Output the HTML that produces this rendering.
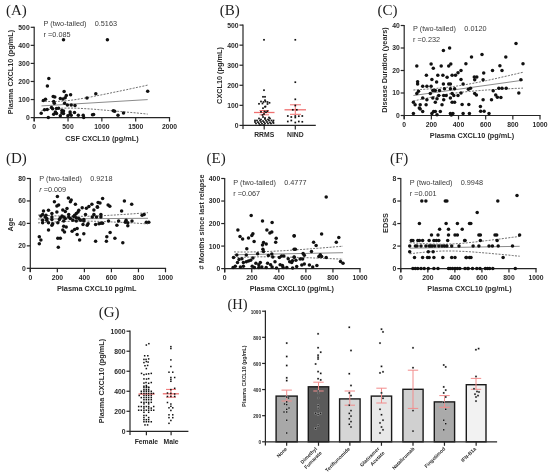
<!DOCTYPE html>
<html><head><meta charset="utf-8"><style>html,body{margin:0;padding:0;background:#fff;}svg{display:block;filter:blur(0.3px);}</style></head>
<body><svg width="550" height="476" viewBox="0 0 550 476">
<rect width="550" height="476" fill="#fff"/>
<text x="6.0" y="14.8" font-family='"Liberation Serif", serif' font-size="15" font-weight="normal" text-anchor="start" fill="#1e1e1e">(A)</text>
<line x1="34.20" y1="117.60" x2="170.10" y2="117.60" stroke="#262626" stroke-width="1.2"/>
<line x1="34.20" y1="117.60" x2="34.20" y2="121.60" stroke="#262626" stroke-width="1.2"/>
<text x="34.2" y="129.4" font-family='"Liberation Sans", sans-serif' font-size="6.8" font-weight="bold" text-anchor="middle" fill="#2a2a2a">0</text>
<line x1="68.03" y1="117.60" x2="68.03" y2="121.60" stroke="#262626" stroke-width="1.2"/>
<text x="68.0" y="129.4" font-family='"Liberation Sans", sans-serif' font-size="6.8" font-weight="bold" text-anchor="middle" fill="#2a2a2a">500</text>
<line x1="101.85" y1="117.60" x2="101.85" y2="121.60" stroke="#262626" stroke-width="1.2"/>
<text x="101.9" y="129.4" font-family='"Liberation Sans", sans-serif' font-size="6.8" font-weight="bold" text-anchor="middle" fill="#2a2a2a">1000</text>
<line x1="135.68" y1="117.60" x2="135.68" y2="121.60" stroke="#262626" stroke-width="1.2"/>
<text x="135.7" y="129.4" font-family='"Liberation Sans", sans-serif' font-size="6.8" font-weight="bold" text-anchor="middle" fill="#2a2a2a">1500</text>
<line x1="169.50" y1="117.60" x2="169.50" y2="121.60" stroke="#262626" stroke-width="1.2"/>
<text x="169.5" y="129.4" font-family='"Liberation Sans", sans-serif' font-size="6.8" font-weight="bold" text-anchor="middle" fill="#2a2a2a">2000</text>
<line x1="34.20" y1="121.20" x2="34.20" y2="26.70" stroke="#262626" stroke-width="1.2"/>
<line x1="30.70" y1="117.60" x2="34.20" y2="117.60" stroke="#262626" stroke-width="1.2"/>
<text x="29.7" y="120.0" font-family='"Liberation Sans", sans-serif' font-size="6.8" font-weight="bold" text-anchor="end" fill="#2a2a2a">0</text>
<line x1="30.70" y1="99.54" x2="34.20" y2="99.54" stroke="#262626" stroke-width="1.2"/>
<text x="29.7" y="101.9" font-family='"Liberation Sans", sans-serif' font-size="6.8" font-weight="bold" text-anchor="end" fill="#2a2a2a">100</text>
<line x1="30.70" y1="81.48" x2="34.20" y2="81.48" stroke="#262626" stroke-width="1.2"/>
<text x="29.7" y="83.9" font-family='"Liberation Sans", sans-serif' font-size="6.8" font-weight="bold" text-anchor="end" fill="#2a2a2a">200</text>
<line x1="30.70" y1="63.42" x2="34.20" y2="63.42" stroke="#262626" stroke-width="1.2"/>
<text x="29.7" y="65.8" font-family='"Liberation Sans", sans-serif' font-size="6.8" font-weight="bold" text-anchor="end" fill="#2a2a2a">300</text>
<line x1="30.70" y1="45.36" x2="34.20" y2="45.36" stroke="#262626" stroke-width="1.2"/>
<text x="29.7" y="47.8" font-family='"Liberation Sans", sans-serif' font-size="6.8" font-weight="bold" text-anchor="end" fill="#2a2a2a">400</text>
<line x1="30.70" y1="27.30" x2="34.20" y2="27.30" stroke="#262626" stroke-width="1.2"/>
<text x="29.7" y="29.7" font-family='"Liberation Sans", sans-serif' font-size="6.8" font-weight="bold" text-anchor="end" fill="#2a2a2a">500</text>
<text x="102.0" y="140.6" font-family='"Liberation Sans", sans-serif' font-size="7.3" font-weight="bold" text-anchor="middle" fill="#2a2a2a">CSF CXCL10 (pg/mL)</text>
<text x="13.3" y="72.0" font-family='"Liberation Sans", sans-serif' font-size="7.3" font-weight="bold" text-anchor="middle" fill="#2a2a2a" transform="rotate(-90 13.3 72.0)">Plasma CXCL10 (pg/mL)</text>
<text x="43.6" y="25.6" font-family='"Liberation Sans", sans-serif' font-size="7.3" font-weight="normal" text-anchor="start" fill="#3a3a3a">P (two-tailed)</text>
<text x="94.7" y="25.6" font-family='"Liberation Sans", sans-serif' font-size="7.3" font-weight="normal" text-anchor="start" fill="#3a3a3a">0.5163</text>
<text x="43.6" y="36.7" font-family='"Liberation Sans", sans-serif' font-size="7.3" font-weight="normal" text-anchor="start" fill="#3a3a3a">r =0.085</text>
<line x1="41.50" y1="105.90" x2="147.70" y2="99.60" stroke="#8c8c8c" stroke-width="1.0"/>
<path d="M41.5,101.3 L45.0,101.4 L48.6,101.5 L52.1,101.5 L55.7,101.5 L59.2,101.3 L62.7,101.1 L66.3,100.8 L69.8,100.4 L73.4,99.9 L76.9,99.4 L80.4,98.8 L84.0,98.2 L87.5,97.5 L91.1,96.9 L94.6,96.2 L98.1,95.5 L101.7,94.8 L105.2,94.1 L108.8,93.4 L112.3,92.6 L115.8,91.9 L119.4,91.2 L122.9,90.4 L126.5,89.7 L130.0,88.9 L133.5,88.2 L137.1,87.4 L140.6,86.7 L144.2,85.9 L147.7,85.1" fill="none" stroke="#4a4a4a" stroke-width="0.8" stroke-dasharray="2,1.3"/>
<path d="M41.5,110.5 L45.0,109.9 L48.6,109.4 L52.1,109.0 L55.7,108.6 L59.2,108.4 L62.7,108.2 L66.3,108.1 L69.8,108.1 L73.4,108.1 L76.9,108.2 L80.4,108.4 L84.0,108.6 L87.5,108.8 L91.1,109.0 L94.6,109.3 L98.1,109.6 L101.7,109.9 L105.2,110.2 L108.8,110.5 L112.3,110.8 L115.8,111.1 L119.4,111.4 L122.9,111.7 L126.5,112.1 L130.0,112.4 L133.5,112.7 L137.1,113.0 L140.6,113.4 L144.2,113.7 L147.7,114.1" fill="none" stroke="#4a4a4a" stroke-width="0.8" stroke-dasharray="2,1.3"/>
<circle cx="48.8" cy="78.4" r="1.75" fill="#111"/>
<circle cx="47.4" cy="86.0" r="1.75" fill="#111"/>
<circle cx="64.1" cy="91.5" r="1.75" fill="#111"/>
<circle cx="70.6" cy="94.8" r="1.75" fill="#111"/>
<circle cx="53.2" cy="96.5" r="1.75" fill="#111"/>
<circle cx="54.8" cy="97.0" r="1.75" fill="#111"/>
<circle cx="66.3" cy="95.6" r="1.75" fill="#111"/>
<circle cx="65.2" cy="97.8" r="1.75" fill="#111"/>
<circle cx="60.3" cy="98.4" r="1.75" fill="#111"/>
<circle cx="63.0" cy="98.9" r="1.75" fill="#111"/>
<circle cx="43.4" cy="100.5" r="1.75" fill="#111"/>
<circle cx="45.5" cy="99.2" r="1.75" fill="#111"/>
<circle cx="87.0" cy="98.0" r="1.75" fill="#111"/>
<circle cx="53.7" cy="101.6" r="1.75" fill="#111"/>
<circle cx="54.3" cy="103.3" r="1.75" fill="#111"/>
<circle cx="64.6" cy="103.3" r="1.75" fill="#111"/>
<circle cx="67.4" cy="104.9" r="1.75" fill="#111"/>
<circle cx="71.2" cy="105.1" r="1.75" fill="#111"/>
<circle cx="75.0" cy="105.5" r="1.75" fill="#111"/>
<circle cx="51.5" cy="107.6" r="1.75" fill="#111"/>
<circle cx="52.6" cy="108.7" r="1.75" fill="#111"/>
<circle cx="44.5" cy="109.8" r="1.75" fill="#111"/>
<circle cx="47.2" cy="109.5" r="1.75" fill="#111"/>
<circle cx="56.5" cy="108.4" r="1.75" fill="#111"/>
<circle cx="58.6" cy="108.2" r="1.75" fill="#111"/>
<circle cx="61.9" cy="110.4" r="1.75" fill="#111"/>
<circle cx="63.5" cy="110.9" r="1.75" fill="#111"/>
<circle cx="41.2" cy="113.3" r="1.75" fill="#111"/>
<circle cx="55.4" cy="112.0" r="1.75" fill="#111"/>
<circle cx="53.7" cy="114.2" r="1.75" fill="#111"/>
<circle cx="56.5" cy="113.6" r="1.75" fill="#111"/>
<circle cx="61.9" cy="113.1" r="1.75" fill="#111"/>
<circle cx="63.5" cy="113.6" r="1.75" fill="#111"/>
<circle cx="70.1" cy="112.0" r="1.75" fill="#111"/>
<circle cx="74.5" cy="112.5" r="1.75" fill="#111"/>
<circle cx="70.1" cy="114.2" r="1.75" fill="#111"/>
<circle cx="67.9" cy="115.8" r="1.75" fill="#111"/>
<circle cx="78.3" cy="115.3" r="1.75" fill="#111"/>
<circle cx="83.2" cy="115.3" r="1.75" fill="#111"/>
<circle cx="48.3" cy="117.5" r="1.75" fill="#111"/>
<circle cx="60.3" cy="115.8" r="1.75" fill="#111"/>
<circle cx="71.2" cy="115.3" r="1.75" fill="#111"/>
<circle cx="83.7" cy="117.5" r="1.75" fill="#111"/>
<circle cx="92.5" cy="114.7" r="1.75" fill="#111"/>
<circle cx="63.5" cy="39.7" r="1.75" fill="#111"/>
<circle cx="107.4" cy="39.7" r="1.75" fill="#111"/>
<circle cx="95.8" cy="93.8" r="1.75" fill="#111"/>
<circle cx="147.7" cy="91.3" r="1.75" fill="#111"/>
<circle cx="113.3" cy="110.8" r="1.75" fill="#111"/>
<circle cx="114.7" cy="111.3" r="1.75" fill="#111"/>
<circle cx="123.5" cy="113.0" r="1.75" fill="#111"/>
<circle cx="118.0" cy="115.3" r="1.75" fill="#111"/>
<circle cx="93.6" cy="114.6" r="1.75" fill="#111"/>
<text x="219.8" y="14.8" font-family='"Liberation Serif", serif' font-size="15" font-weight="normal" text-anchor="start" fill="#1e1e1e">(B)</text>
<line x1="243.00" y1="125.40" x2="315.80" y2="125.40" stroke="#262626" stroke-width="1.2"/>
<line x1="264.20" y1="125.40" x2="264.20" y2="129.40" stroke="#262626" stroke-width="1.2"/>
<text x="264.2" y="137.4" font-family='"Liberation Sans", sans-serif' font-size="6.8" font-weight="bold" text-anchor="middle" fill="#2a2a2a">RRMS</text>
<line x1="295.30" y1="125.40" x2="295.30" y2="129.40" stroke="#262626" stroke-width="1.2"/>
<text x="295.3" y="137.4" font-family='"Liberation Sans", sans-serif' font-size="6.8" font-weight="bold" text-anchor="middle" fill="#2a2a2a">NIND</text>
<line x1="243.00" y1="129.00" x2="243.00" y2="24.50" stroke="#262626" stroke-width="1.2"/>
<line x1="239.50" y1="125.40" x2="243.00" y2="125.40" stroke="#262626" stroke-width="1.2"/>
<text x="238.5" y="127.8" font-family='"Liberation Sans", sans-serif' font-size="6.8" font-weight="bold" text-anchor="end" fill="#2a2a2a">0</text>
<line x1="239.50" y1="105.34" x2="243.00" y2="105.34" stroke="#262626" stroke-width="1.2"/>
<text x="238.5" y="107.7" font-family='"Liberation Sans", sans-serif' font-size="6.8" font-weight="bold" text-anchor="end" fill="#2a2a2a">100</text>
<line x1="239.50" y1="85.28" x2="243.00" y2="85.28" stroke="#262626" stroke-width="1.2"/>
<text x="238.5" y="87.7" font-family='"Liberation Sans", sans-serif' font-size="6.8" font-weight="bold" text-anchor="end" fill="#2a2a2a">200</text>
<line x1="239.50" y1="65.22" x2="243.00" y2="65.22" stroke="#262626" stroke-width="1.2"/>
<text x="238.5" y="67.6" font-family='"Liberation Sans", sans-serif' font-size="6.8" font-weight="bold" text-anchor="end" fill="#2a2a2a">300</text>
<line x1="239.50" y1="45.16" x2="243.00" y2="45.16" stroke="#262626" stroke-width="1.2"/>
<text x="238.5" y="47.6" font-family='"Liberation Sans", sans-serif' font-size="6.8" font-weight="bold" text-anchor="end" fill="#2a2a2a">400</text>
<line x1="239.50" y1="25.10" x2="243.00" y2="25.10" stroke="#262626" stroke-width="1.2"/>
<text x="238.5" y="27.5" font-family='"Liberation Sans", sans-serif' font-size="6.8" font-weight="bold" text-anchor="end" fill="#2a2a2a">500</text>
<text x="222.3" y="75.5" font-family='"Liberation Sans", sans-serif' font-size="7.3" font-weight="bold" text-anchor="middle" fill="#2a2a2a" transform="rotate(-90 222.3 75.5)">CXCL10 (pg/mL)</text>
<line x1="254.00" y1="112.50" x2="274.50" y2="112.50" stroke="#f07070" stroke-width="1.3"/>
<line x1="259.50" y1="110.50" x2="269.00" y2="110.50" stroke="#f07070" stroke-width="1"/>
<line x1="259.50" y1="114.80" x2="269.00" y2="114.80" stroke="#f07070" stroke-width="1"/>
<line x1="264.20" y1="110.50" x2="264.20" y2="114.80" stroke="#f07070" stroke-width="1"/>
<line x1="284.50" y1="109.80" x2="306.00" y2="109.80" stroke="#f07070" stroke-width="1.3"/>
<line x1="290.00" y1="104.80" x2="301.00" y2="104.80" stroke="#f07070" stroke-width="1"/>
<line x1="290.00" y1="114.30" x2="301.00" y2="114.30" stroke="#f07070" stroke-width="1"/>
<line x1="295.30" y1="104.80" x2="295.30" y2="114.30" stroke="#f07070" stroke-width="1"/>
<rect x="263.15" y="89.35" width="1.7" height="1.7" fill="#111"/>
<rect x="262.15" y="95.95" width="1.7" height="1.7" fill="#111"/>
<rect x="264.15" y="95.95" width="1.7" height="1.7" fill="#111"/>
<rect x="264.15" y="99.35" width="1.7" height="1.7" fill="#111"/>
<rect x="260.15" y="100.65" width="1.7" height="1.7" fill="#111"/>
<rect x="262.65" y="101.15" width="1.7" height="1.7" fill="#111"/>
<rect x="264.65" y="100.65" width="1.7" height="1.7" fill="#111"/>
<rect x="266.65" y="101.15" width="1.7" height="1.7" fill="#111"/>
<rect x="268.65" y="101.95" width="1.7" height="1.7" fill="#111"/>
<rect x="258.15" y="102.95" width="1.7" height="1.7" fill="#111"/>
<rect x="261.65" y="102.65" width="1.7" height="1.7" fill="#111"/>
<rect x="266.65" y="103.15" width="1.7" height="1.7" fill="#111"/>
<rect x="264.65" y="105.65" width="1.7" height="1.7" fill="#111"/>
<rect x="262.15" y="107.35" width="1.7" height="1.7" fill="#111"/>
<rect x="264.15" y="105.95" width="1.7" height="1.7" fill="#111"/>
<rect x="260.15" y="110.95" width="1.7" height="1.7" fill="#111"/>
<rect x="263.65" y="110.65" width="1.7" height="1.7" fill="#111"/>
<rect x="266.65" y="110.35" width="1.7" height="1.7" fill="#111"/>
<rect x="265.15" y="111.35" width="1.7" height="1.7" fill="#111"/>
<rect x="261.65" y="114.15" width="1.7" height="1.7" fill="#111"/>
<rect x="263.15" y="113.15" width="1.7" height="1.7" fill="#111"/>
<rect x="262.15" y="116.15" width="1.7" height="1.7" fill="#111"/>
<rect x="264.15" y="117.15" width="1.7" height="1.7" fill="#111"/>
<rect x="268.15" y="116.65" width="1.7" height="1.7" fill="#111"/>
<rect x="258.15" y="117.65" width="1.7" height="1.7" fill="#111"/>
<rect x="260.15" y="118.65" width="1.7" height="1.7" fill="#111"/>
<rect x="264.15" y="118.15" width="1.7" height="1.7" fill="#111"/>
<rect x="267.15" y="118.65" width="1.7" height="1.7" fill="#111"/>
<rect x="269.15" y="117.65" width="1.7" height="1.7" fill="#111"/>
<rect x="254.15" y="119.65" width="1.7" height="1.7" fill="#111"/>
<rect x="256.15" y="119.65" width="1.7" height="1.7" fill="#111"/>
<rect x="259.15" y="119.65" width="1.7" height="1.7" fill="#111"/>
<rect x="262.15" y="120.15" width="1.7" height="1.7" fill="#111"/>
<rect x="265.15" y="119.65" width="1.7" height="1.7" fill="#111"/>
<rect x="268.15" y="119.65" width="1.7" height="1.7" fill="#111"/>
<rect x="270.65" y="119.65" width="1.7" height="1.7" fill="#111"/>
<rect x="272.65" y="119.65" width="1.7" height="1.7" fill="#111"/>
<rect x="254.15" y="121.15" width="1.7" height="1.7" fill="#111"/>
<rect x="257.15" y="121.35" width="1.7" height="1.7" fill="#111"/>
<rect x="260.15" y="121.15" width="1.7" height="1.7" fill="#111"/>
<rect x="263.15" y="121.35" width="1.7" height="1.7" fill="#111"/>
<rect x="266.15" y="121.15" width="1.7" height="1.7" fill="#111"/>
<rect x="269.15" y="121.65" width="1.7" height="1.7" fill="#111"/>
<rect x="272.15" y="121.15" width="1.7" height="1.7" fill="#111"/>
<rect x="255.15" y="122.65" width="1.7" height="1.7" fill="#111"/>
<rect x="258.15" y="122.65" width="1.7" height="1.7" fill="#111"/>
<rect x="261.15" y="122.95" width="1.7" height="1.7" fill="#111"/>
<rect x="264.15" y="122.65" width="1.7" height="1.7" fill="#111"/>
<rect x="267.15" y="122.65" width="1.7" height="1.7" fill="#111"/>
<rect x="270.15" y="122.65" width="1.7" height="1.7" fill="#111"/>
<rect x="272.65" y="122.15" width="1.7" height="1.7" fill="#111"/>
<rect x="259.15" y="124.15" width="1.7" height="1.7" fill="#111"/>
<rect x="263.15" y="124.15" width="1.7" height="1.7" fill="#111"/>
<rect x="263.15" y="38.95" width="1.7" height="1.7" fill="#111"/>
<rect x="294.45" y="98.45" width="1.7" height="1.7" fill="#111"/>
<rect x="294.45" y="104.65" width="1.7" height="1.7" fill="#111"/>
<rect x="291.95" y="108.95" width="1.7" height="1.7" fill="#111"/>
<rect x="295.95" y="108.95" width="1.7" height="1.7" fill="#111"/>
<rect x="286.95" y="115.15" width="1.7" height="1.7" fill="#111"/>
<rect x="290.45" y="116.15" width="1.7" height="1.7" fill="#111"/>
<rect x="294.45" y="115.15" width="1.7" height="1.7" fill="#111"/>
<rect x="297.95" y="115.35" width="1.7" height="1.7" fill="#111"/>
<rect x="301.45" y="115.15" width="1.7" height="1.7" fill="#111"/>
<rect x="294.45" y="116.65" width="1.7" height="1.7" fill="#111"/>
<rect x="286.95" y="120.65" width="1.7" height="1.7" fill="#111"/>
<rect x="290.45" y="119.65" width="1.7" height="1.7" fill="#111"/>
<rect x="294.45" y="121.65" width="1.7" height="1.7" fill="#111"/>
<rect x="297.95" y="120.65" width="1.7" height="1.7" fill="#111"/>
<rect x="301.45" y="120.95" width="1.7" height="1.7" fill="#111"/>
<rect x="294.45" y="38.95" width="1.7" height="1.7" fill="#111"/>
<rect x="294.45" y="81.35" width="1.7" height="1.7" fill="#111"/>
<text x="377.6" y="14.8" font-family='"Liberation Serif", serif' font-size="15" font-weight="normal" text-anchor="start" fill="#1e1e1e">(C)</text>
<line x1="404.20" y1="115.50" x2="540.60" y2="115.50" stroke="#262626" stroke-width="1.2"/>
<line x1="404.20" y1="115.50" x2="404.20" y2="119.50" stroke="#262626" stroke-width="1.2"/>
<text x="404.2" y="127.3" font-family='"Liberation Sans", sans-serif' font-size="6.8" font-weight="bold" text-anchor="middle" fill="#2a2a2a">0</text>
<line x1="431.36" y1="115.50" x2="431.36" y2="119.50" stroke="#262626" stroke-width="1.2"/>
<text x="431.4" y="127.3" font-family='"Liberation Sans", sans-serif' font-size="6.8" font-weight="bold" text-anchor="middle" fill="#2a2a2a">200</text>
<line x1="458.52" y1="115.50" x2="458.52" y2="119.50" stroke="#262626" stroke-width="1.2"/>
<text x="458.5" y="127.3" font-family='"Liberation Sans", sans-serif' font-size="6.8" font-weight="bold" text-anchor="middle" fill="#2a2a2a">400</text>
<line x1="485.68" y1="115.50" x2="485.68" y2="119.50" stroke="#262626" stroke-width="1.2"/>
<text x="485.7" y="127.3" font-family='"Liberation Sans", sans-serif' font-size="6.8" font-weight="bold" text-anchor="middle" fill="#2a2a2a">600</text>
<line x1="512.84" y1="115.50" x2="512.84" y2="119.50" stroke="#262626" stroke-width="1.2"/>
<text x="512.8" y="127.3" font-family='"Liberation Sans", sans-serif' font-size="6.8" font-weight="bold" text-anchor="middle" fill="#2a2a2a">800</text>
<line x1="540.00" y1="115.50" x2="540.00" y2="119.50" stroke="#262626" stroke-width="1.2"/>
<text x="540.0" y="127.3" font-family='"Liberation Sans", sans-serif' font-size="6.8" font-weight="bold" text-anchor="middle" fill="#2a2a2a">1000</text>
<line x1="404.20" y1="119.10" x2="404.20" y2="24.90" stroke="#262626" stroke-width="1.2"/>
<line x1="400.70" y1="115.50" x2="404.20" y2="115.50" stroke="#262626" stroke-width="1.2"/>
<text x="399.7" y="117.9" font-family='"Liberation Sans", sans-serif' font-size="6.8" font-weight="bold" text-anchor="end" fill="#2a2a2a">0</text>
<line x1="400.70" y1="93.00" x2="404.20" y2="93.00" stroke="#262626" stroke-width="1.2"/>
<text x="399.7" y="95.4" font-family='"Liberation Sans", sans-serif' font-size="6.8" font-weight="bold" text-anchor="end" fill="#2a2a2a">10</text>
<line x1="400.70" y1="70.50" x2="404.20" y2="70.50" stroke="#262626" stroke-width="1.2"/>
<text x="399.7" y="72.9" font-family='"Liberation Sans", sans-serif' font-size="6.8" font-weight="bold" text-anchor="end" fill="#2a2a2a">20</text>
<line x1="400.70" y1="48.00" x2="404.20" y2="48.00" stroke="#262626" stroke-width="1.2"/>
<text x="399.7" y="50.4" font-family='"Liberation Sans", sans-serif' font-size="6.8" font-weight="bold" text-anchor="end" fill="#2a2a2a">30</text>
<line x1="400.70" y1="25.50" x2="404.20" y2="25.50" stroke="#262626" stroke-width="1.2"/>
<text x="399.7" y="27.9" font-family='"Liberation Sans", sans-serif' font-size="6.8" font-weight="bold" text-anchor="end" fill="#2a2a2a">40</text>
<text x="472.0" y="138.0" font-family='"Liberation Sans", sans-serif' font-size="7.3" font-weight="bold" text-anchor="middle" fill="#2a2a2a">Plasma CXCL10 (pg/mL)</text>
<text x="386.5" y="70.0" font-family='"Liberation Sans", sans-serif' font-size="7.3" font-weight="bold" text-anchor="middle" fill="#2a2a2a" transform="rotate(-90 386.5 70.0)">Disease Duration (years)</text>
<text x="413.1" y="30.9" font-family='"Liberation Sans", sans-serif' font-size="7.3" font-weight="normal" text-anchor="start" fill="#3a3a3a">P (two-tailed)</text>
<text x="464.3" y="30.9" font-family='"Liberation Sans", sans-serif' font-size="7.3" font-weight="normal" text-anchor="start" fill="#3a3a3a">0.0120</text>
<text x="413.1" y="41.9" font-family='"Liberation Sans", sans-serif' font-size="7.3" font-weight="normal" text-anchor="start" fill="#3a3a3a">r =0.232</text>
<line x1="413.40" y1="95.50" x2="523.00" y2="80.20" stroke="#8c8c8c" stroke-width="1.0"/>
<path d="M413.4,90.0 L417.1,89.8 L420.7,89.5 L424.4,89.3 L428.0,89.0 L431.7,88.8 L435.3,88.5 L439.0,88.1 L442.6,87.8 L446.3,87.4 L449.9,87.0 L453.6,86.5 L457.2,86.0 L460.9,85.4 L464.5,84.8 L468.2,84.2 L471.9,83.5 L475.5,82.8 L479.2,82.1 L482.8,81.3 L486.5,80.6 L490.1,79.8 L493.8,79.0 L497.4,78.2 L501.1,77.3 L504.7,76.5 L508.4,75.7 L512.0,74.8 L515.7,74.0 L519.3,73.1 L523.0,72.3" fill="none" stroke="#4a4a4a" stroke-width="0.8" stroke-dasharray="2,1.3"/>
<path d="M413.4,101.0 L417.1,100.2 L420.7,99.4 L424.4,98.7 L428.0,97.9 L431.7,97.1 L435.3,96.4 L439.0,95.7 L442.6,95.1 L446.3,94.4 L449.9,93.8 L453.6,93.3 L457.2,92.8 L460.9,92.3 L464.5,91.9 L468.2,91.5 L471.9,91.2 L475.5,90.9 L479.2,90.6 L482.8,90.3 L486.5,90.0 L490.1,89.8 L493.8,89.6 L497.4,89.4 L501.1,89.2 L504.7,89.0 L508.4,88.8 L512.0,88.6 L515.7,88.4 L519.3,88.3 L523.0,88.1" fill="none" stroke="#4a4a4a" stroke-width="0.8" stroke-dasharray="2,1.3"/>
<circle cx="449.6" cy="47.9" r="1.75" fill="#111"/>
<circle cx="443.4" cy="50.4" r="1.75" fill="#111"/>
<circle cx="416.8" cy="66.1" r="1.75" fill="#111"/>
<circle cx="431.1" cy="63.9" r="1.75" fill="#111"/>
<circle cx="433.3" cy="68.2" r="1.75" fill="#111"/>
<circle cx="441.2" cy="66.1" r="1.75" fill="#111"/>
<circle cx="448.7" cy="66.1" r="1.75" fill="#111"/>
<circle cx="450.8" cy="63.9" r="1.75" fill="#111"/>
<circle cx="426.4" cy="75.3" r="1.75" fill="#111"/>
<circle cx="437.8" cy="75.3" r="1.75" fill="#111"/>
<circle cx="442.9" cy="75.3" r="1.75" fill="#111"/>
<circle cx="447.1" cy="77.3" r="1.75" fill="#111"/>
<circle cx="452.1" cy="75.3" r="1.75" fill="#111"/>
<circle cx="455.5" cy="75.3" r="1.75" fill="#111"/>
<circle cx="458.0" cy="72.8" r="1.75" fill="#111"/>
<circle cx="417.6" cy="81.7" r="1.75" fill="#111"/>
<circle cx="417.6" cy="84.0" r="1.75" fill="#111"/>
<circle cx="431.9" cy="79.5" r="1.75" fill="#111"/>
<circle cx="436.6" cy="82.0" r="1.75" fill="#111"/>
<circle cx="443.4" cy="84.0" r="1.75" fill="#111"/>
<circle cx="448.7" cy="84.0" r="1.75" fill="#111"/>
<circle cx="450.4" cy="84.0" r="1.75" fill="#111"/>
<circle cx="422.7" cy="86.2" r="1.75" fill="#111"/>
<circle cx="426.9" cy="86.2" r="1.75" fill="#111"/>
<circle cx="431.1" cy="86.2" r="1.75" fill="#111"/>
<circle cx="444.5" cy="88.7" r="1.75" fill="#111"/>
<circle cx="450.4" cy="88.7" r="1.75" fill="#111"/>
<circle cx="454.6" cy="88.7" r="1.75" fill="#111"/>
<circle cx="432.8" cy="90.4" r="1.75" fill="#111"/>
<circle cx="435.3" cy="90.4" r="1.75" fill="#111"/>
<circle cx="439.5" cy="90.4" r="1.75" fill="#111"/>
<circle cx="416.8" cy="93.4" r="1.75" fill="#111"/>
<circle cx="418.5" cy="91.3" r="1.75" fill="#111"/>
<circle cx="430.3" cy="93.4" r="1.75" fill="#111"/>
<circle cx="438.7" cy="95.5" r="1.75" fill="#111"/>
<circle cx="443.7" cy="95.5" r="1.75" fill="#111"/>
<circle cx="446.2" cy="95.5" r="1.75" fill="#111"/>
<circle cx="452.1" cy="93.4" r="1.75" fill="#111"/>
<circle cx="453.8" cy="95.5" r="1.75" fill="#111"/>
<circle cx="458.0" cy="95.5" r="1.75" fill="#111"/>
<circle cx="422.7" cy="98.0" r="1.75" fill="#111"/>
<circle cx="426.9" cy="99.7" r="1.75" fill="#111"/>
<circle cx="432.8" cy="98.0" r="1.75" fill="#111"/>
<circle cx="437.0" cy="98.8" r="1.75" fill="#111"/>
<circle cx="443.7" cy="99.7" r="1.75" fill="#111"/>
<circle cx="450.4" cy="98.0" r="1.75" fill="#111"/>
<circle cx="413.4" cy="102.2" r="1.75" fill="#111"/>
<circle cx="415.1" cy="104.7" r="1.75" fill="#111"/>
<circle cx="420.2" cy="104.7" r="1.75" fill="#111"/>
<circle cx="426.1" cy="104.7" r="1.75" fill="#111"/>
<circle cx="435.3" cy="102.2" r="1.75" fill="#111"/>
<circle cx="442.0" cy="104.7" r="1.75" fill="#111"/>
<circle cx="452.1" cy="102.2" r="1.75" fill="#111"/>
<circle cx="454.6" cy="102.2" r="1.75" fill="#111"/>
<circle cx="420.2" cy="108.9" r="1.75" fill="#111"/>
<circle cx="422.7" cy="111.4" r="1.75" fill="#111"/>
<circle cx="419.3" cy="108.1" r="1.75" fill="#111"/>
<circle cx="433.6" cy="111.4" r="1.75" fill="#111"/>
<circle cx="435.3" cy="111.4" r="1.75" fill="#111"/>
<circle cx="440.3" cy="111.4" r="1.75" fill="#111"/>
<circle cx="413.4" cy="113.4" r="1.75" fill="#111"/>
<circle cx="431.9" cy="113.4" r="1.75" fill="#111"/>
<circle cx="437.0" cy="114.8" r="1.75" fill="#111"/>
<circle cx="450.4" cy="113.4" r="1.75" fill="#111"/>
<circle cx="452.9" cy="113.4" r="1.75" fill="#111"/>
<circle cx="451.3" cy="115.1" r="1.75" fill="#111"/>
<circle cx="516.0" cy="43.5" r="1.75" fill="#111"/>
<circle cx="482.0" cy="54.6" r="1.75" fill="#111"/>
<circle cx="471.5" cy="57.1" r="1.75" fill="#111"/>
<circle cx="505.8" cy="57.1" r="1.75" fill="#111"/>
<circle cx="465.9" cy="63.7" r="1.75" fill="#111"/>
<circle cx="523.0" cy="63.7" r="1.75" fill="#111"/>
<circle cx="499.9" cy="65.8" r="1.75" fill="#111"/>
<circle cx="502.0" cy="70.4" r="1.75" fill="#111"/>
<circle cx="492.5" cy="70.4" r="1.75" fill="#111"/>
<circle cx="461.0" cy="70.4" r="1.75" fill="#111"/>
<circle cx="483.7" cy="72.9" r="1.75" fill="#111"/>
<circle cx="474.3" cy="77.1" r="1.75" fill="#111"/>
<circle cx="476.8" cy="77.1" r="1.75" fill="#111"/>
<circle cx="474.7" cy="79.8" r="1.75" fill="#111"/>
<circle cx="483.1" cy="79.8" r="1.75" fill="#111"/>
<circle cx="461.0" cy="79.4" r="1.75" fill="#111"/>
<circle cx="520.9" cy="79.8" r="1.75" fill="#111"/>
<circle cx="463.1" cy="84.0" r="1.75" fill="#111"/>
<circle cx="468.4" cy="89.3" r="1.75" fill="#111"/>
<circle cx="470.5" cy="88.2" r="1.75" fill="#111"/>
<circle cx="498.8" cy="88.2" r="1.75" fill="#111"/>
<circle cx="502.0" cy="88.2" r="1.75" fill="#111"/>
<circle cx="506.2" cy="88.2" r="1.75" fill="#111"/>
<circle cx="493.2" cy="90.7" r="1.75" fill="#111"/>
<circle cx="461.0" cy="93.0" r="1.75" fill="#111"/>
<circle cx="474.7" cy="93.5" r="1.75" fill="#111"/>
<circle cx="476.4" cy="95.1" r="1.75" fill="#111"/>
<circle cx="495.7" cy="95.1" r="1.75" fill="#111"/>
<circle cx="497.4" cy="97.2" r="1.75" fill="#111"/>
<circle cx="500.9" cy="97.6" r="1.75" fill="#111"/>
<circle cx="518.8" cy="93.0" r="1.75" fill="#111"/>
<circle cx="483.1" cy="99.7" r="1.75" fill="#111"/>
<circle cx="491.5" cy="99.7" r="1.75" fill="#111"/>
<circle cx="462.1" cy="104.4" r="1.75" fill="#111"/>
<circle cx="468.8" cy="104.4" r="1.75" fill="#111"/>
<circle cx="480.4" cy="106.5" r="1.75" fill="#111"/>
<circle cx="480.6" cy="111.3" r="1.75" fill="#111"/>
<circle cx="484.1" cy="111.3" r="1.75" fill="#111"/>
<circle cx="463.1" cy="113.4" r="1.75" fill="#111"/>
<circle cx="469.4" cy="113.4" r="1.75" fill="#111"/>
<circle cx="489.0" cy="113.4" r="1.75" fill="#111"/>
<text x="6.0" y="163.0" font-family='"Liberation Serif", serif' font-size="15" font-weight="normal" text-anchor="start" fill="#1e1e1e">(D)</text>
<line x1="30.30" y1="268.30" x2="166.10" y2="268.30" stroke="#262626" stroke-width="1.2"/>
<line x1="30.30" y1="268.30" x2="30.30" y2="272.30" stroke="#262626" stroke-width="1.2"/>
<text x="30.3" y="279.8" font-family='"Liberation Sans", sans-serif' font-size="6.8" font-weight="bold" text-anchor="middle" fill="#2a2a2a">0</text>
<line x1="57.34" y1="268.30" x2="57.34" y2="272.30" stroke="#262626" stroke-width="1.2"/>
<text x="57.3" y="279.8" font-family='"Liberation Sans", sans-serif' font-size="6.8" font-weight="bold" text-anchor="middle" fill="#2a2a2a">200</text>
<line x1="84.38" y1="268.30" x2="84.38" y2="272.30" stroke="#262626" stroke-width="1.2"/>
<text x="84.4" y="279.8" font-family='"Liberation Sans", sans-serif' font-size="6.8" font-weight="bold" text-anchor="middle" fill="#2a2a2a">400</text>
<line x1="111.42" y1="268.30" x2="111.42" y2="272.30" stroke="#262626" stroke-width="1.2"/>
<text x="111.4" y="279.8" font-family='"Liberation Sans", sans-serif' font-size="6.8" font-weight="bold" text-anchor="middle" fill="#2a2a2a">600</text>
<line x1="138.46" y1="268.30" x2="138.46" y2="272.30" stroke="#262626" stroke-width="1.2"/>
<text x="138.5" y="279.8" font-family='"Liberation Sans", sans-serif' font-size="6.8" font-weight="bold" text-anchor="middle" fill="#2a2a2a">800</text>
<line x1="165.50" y1="268.30" x2="165.50" y2="272.30" stroke="#262626" stroke-width="1.2"/>
<text x="165.5" y="279.8" font-family='"Liberation Sans", sans-serif' font-size="6.8" font-weight="bold" text-anchor="middle" fill="#2a2a2a">1000</text>
<line x1="30.30" y1="271.90" x2="30.30" y2="177.90" stroke="#262626" stroke-width="1.2"/>
<line x1="26.80" y1="268.30" x2="30.30" y2="268.30" stroke="#262626" stroke-width="1.2"/>
<text x="25.8" y="270.7" font-family='"Liberation Sans", sans-serif' font-size="6.8" font-weight="bold" text-anchor="end" fill="#2a2a2a">0</text>
<line x1="26.80" y1="245.85" x2="30.30" y2="245.85" stroke="#262626" stroke-width="1.2"/>
<text x="25.8" y="248.3" font-family='"Liberation Sans", sans-serif' font-size="6.8" font-weight="bold" text-anchor="end" fill="#2a2a2a">20</text>
<line x1="26.80" y1="223.40" x2="30.30" y2="223.40" stroke="#262626" stroke-width="1.2"/>
<text x="25.8" y="225.8" font-family='"Liberation Sans", sans-serif' font-size="6.8" font-weight="bold" text-anchor="end" fill="#2a2a2a">40</text>
<line x1="26.80" y1="200.95" x2="30.30" y2="200.95" stroke="#262626" stroke-width="1.2"/>
<text x="25.8" y="203.3" font-family='"Liberation Sans", sans-serif' font-size="6.8" font-weight="bold" text-anchor="end" fill="#2a2a2a">60</text>
<line x1="26.80" y1="178.50" x2="30.30" y2="178.50" stroke="#262626" stroke-width="1.2"/>
<text x="25.8" y="180.9" font-family='"Liberation Sans", sans-serif' font-size="6.8" font-weight="bold" text-anchor="end" fill="#2a2a2a">80</text>
<text x="96.7" y="290.8" font-family='"Liberation Sans", sans-serif' font-size="7.3" font-weight="bold" text-anchor="middle" fill="#2a2a2a">Plasma CXCL10 pg/mL</text>
<text x="13.0" y="224.6" font-family='"Liberation Sans", sans-serif' font-size="7.3" font-weight="bold" text-anchor="middle" fill="#2a2a2a" transform="rotate(-90 13.0 224.6)">Age</text>
<text x="39.2" y="180.7" font-family='"Liberation Sans", sans-serif' font-size="7.3" font-weight="normal" text-anchor="start" fill="#3a3a3a">P (two-tailed)</text>
<text x="90.2" y="180.7" font-family='"Liberation Sans", sans-serif' font-size="7.3" font-weight="normal" text-anchor="start" fill="#3a3a3a">0.9218</text>
<text x="39.2" y="192.3" font-family='"Liberation Sans", sans-serif' font-size="7.3" font-weight="normal" text-anchor="start" fill="#3a3a3a"><tspan font-style="italic">r</tspan> =0.009</text>
<line x1="38.00" y1="219.00" x2="148.00" y2="218.30" stroke="#8c8c8c" stroke-width="1.0"/>
<path d="M38.0,215.1 L41.7,215.2 L45.3,215.4 L49.0,215.6 L52.7,215.8 L56.3,215.9 L60.0,216.0 L63.7,216.1 L67.3,216.2 L71.0,216.3 L74.7,216.3 L78.3,216.3 L82.0,216.3 L85.7,216.3 L89.3,216.2 L93.0,216.1 L96.7,215.9 L100.3,215.8 L104.0,215.6 L107.7,215.4 L111.3,215.2 L115.0,215.0 L118.7,214.7 L122.3,214.5 L126.0,214.3 L129.7,214.0 L133.3,213.8 L137.0,213.5 L140.7,213.2 L144.3,213.0 L148.0,212.7" fill="none" stroke="#4a4a4a" stroke-width="0.8" stroke-dasharray="2,1.3"/>
<path d="M38.0,222.9 L41.7,222.7 L45.3,222.5 L49.0,222.3 L52.7,222.1 L56.3,221.9 L60.0,221.7 L63.7,221.5 L67.3,221.4 L71.0,221.3 L74.7,221.2 L78.3,221.1 L82.0,221.1 L85.7,221.1 L89.3,221.2 L93.0,221.2 L96.7,221.3 L100.3,221.4 L104.0,221.6 L107.7,221.7 L111.3,221.9 L115.0,222.1 L118.7,222.2 L122.3,222.4 L126.0,222.6 L129.7,222.8 L133.3,223.0 L137.0,223.2 L140.7,223.5 L144.3,223.7 L148.0,223.9" fill="none" stroke="#4a4a4a" stroke-width="0.8" stroke-dasharray="2,1.3"/>
<circle cx="57.4" cy="196.4" r="1.75" fill="#111"/>
<circle cx="54.4" cy="201.8" r="1.75" fill="#111"/>
<circle cx="58.6" cy="205.1" r="1.75" fill="#111"/>
<circle cx="56.9" cy="206.0" r="1.75" fill="#111"/>
<circle cx="68.4" cy="198.1" r="1.75" fill="#111"/>
<circle cx="71.2" cy="200.1" r="1.75" fill="#111"/>
<circle cx="70.4" cy="201.8" r="1.75" fill="#111"/>
<circle cx="75.4" cy="204.3" r="1.75" fill="#111"/>
<circle cx="91.9" cy="204.3" r="1.75" fill="#111"/>
<circle cx="88.9" cy="206.5" r="1.75" fill="#111"/>
<circle cx="86.4" cy="208.2" r="1.75" fill="#111"/>
<circle cx="82.2" cy="207.7" r="1.75" fill="#111"/>
<circle cx="98.1" cy="202.6" r="1.75" fill="#111"/>
<circle cx="97.3" cy="206.8" r="1.75" fill="#111"/>
<circle cx="93.9" cy="209.9" r="1.75" fill="#111"/>
<circle cx="62.8" cy="209.9" r="1.75" fill="#111"/>
<circle cx="67.0" cy="208.5" r="1.75" fill="#111"/>
<circle cx="65.3" cy="211.5" r="1.75" fill="#111"/>
<circle cx="78.8" cy="210.2" r="1.75" fill="#111"/>
<circle cx="78.0" cy="211.9" r="1.75" fill="#111"/>
<circle cx="76.3" cy="213.6" r="1.75" fill="#111"/>
<circle cx="74.6" cy="215.2" r="1.75" fill="#111"/>
<circle cx="43.5" cy="211.0" r="1.75" fill="#111"/>
<circle cx="48.5" cy="210.2" r="1.75" fill="#111"/>
<circle cx="56.9" cy="211.9" r="1.75" fill="#111"/>
<circle cx="42.6" cy="214.4" r="1.75" fill="#111"/>
<circle cx="46.0" cy="215.2" r="1.75" fill="#111"/>
<circle cx="51.9" cy="213.6" r="1.75" fill="#111"/>
<circle cx="40.9" cy="216.1" r="1.75" fill="#111"/>
<circle cx="45.1" cy="216.9" r="1.75" fill="#111"/>
<circle cx="46.8" cy="218.6" r="1.75" fill="#111"/>
<circle cx="51.9" cy="216.9" r="1.75" fill="#111"/>
<circle cx="62.0" cy="216.1" r="1.75" fill="#111"/>
<circle cx="60.3" cy="217.8" r="1.75" fill="#111"/>
<circle cx="63.7" cy="216.9" r="1.75" fill="#111"/>
<circle cx="68.7" cy="214.4" r="1.75" fill="#111"/>
<circle cx="68.7" cy="216.9" r="1.75" fill="#111"/>
<circle cx="73.7" cy="216.6" r="1.75" fill="#111"/>
<circle cx="76.3" cy="217.8" r="1.75" fill="#111"/>
<circle cx="85.5" cy="214.4" r="1.75" fill="#111"/>
<circle cx="93.9" cy="214.4" r="1.75" fill="#111"/>
<circle cx="42.6" cy="220.3" r="1.75" fill="#111"/>
<circle cx="46.8" cy="220.3" r="1.75" fill="#111"/>
<circle cx="51.9" cy="219.4" r="1.75" fill="#111"/>
<circle cx="59.4" cy="219.4" r="1.75" fill="#111"/>
<circle cx="65.3" cy="218.6" r="1.75" fill="#111"/>
<circle cx="70.4" cy="218.6" r="1.75" fill="#111"/>
<circle cx="78.8" cy="218.6" r="1.75" fill="#111"/>
<circle cx="83.8" cy="219.4" r="1.75" fill="#111"/>
<circle cx="92.3" cy="216.9" r="1.75" fill="#111"/>
<circle cx="96.5" cy="216.9" r="1.75" fill="#111"/>
<circle cx="42.6" cy="222.8" r="1.75" fill="#111"/>
<circle cx="48.5" cy="222.8" r="1.75" fill="#111"/>
<circle cx="52.7" cy="223.7" r="1.75" fill="#111"/>
<circle cx="57.8" cy="222.8" r="1.75" fill="#111"/>
<circle cx="63.7" cy="221.1" r="1.75" fill="#111"/>
<circle cx="72.9" cy="220.3" r="1.75" fill="#111"/>
<circle cx="76.3" cy="221.1" r="1.75" fill="#111"/>
<circle cx="80.5" cy="220.3" r="1.75" fill="#111"/>
<circle cx="83.8" cy="221.1" r="1.75" fill="#111"/>
<circle cx="88.1" cy="223.7" r="1.75" fill="#111"/>
<circle cx="95.6" cy="224.5" r="1.75" fill="#111"/>
<circle cx="99.0" cy="223.7" r="1.75" fill="#111"/>
<circle cx="51.9" cy="225.3" r="1.75" fill="#111"/>
<circle cx="63.7" cy="226.2" r="1.75" fill="#111"/>
<circle cx="66.2" cy="227.0" r="1.75" fill="#111"/>
<circle cx="83.0" cy="224.5" r="1.75" fill="#111"/>
<circle cx="87.2" cy="225.3" r="1.75" fill="#111"/>
<circle cx="48.5" cy="230.0" r="1.75" fill="#111"/>
<circle cx="62.8" cy="230.0" r="1.75" fill="#111"/>
<circle cx="64.5" cy="232.1" r="1.75" fill="#111"/>
<circle cx="72.1" cy="231.2" r="1.75" fill="#111"/>
<circle cx="74.6" cy="229.5" r="1.75" fill="#111"/>
<circle cx="77.1" cy="228.4" r="1.75" fill="#111"/>
<circle cx="39.3" cy="236.8" r="1.75" fill="#111"/>
<circle cx="40.9" cy="240.1" r="1.75" fill="#111"/>
<circle cx="39.3" cy="243.8" r="1.75" fill="#111"/>
<circle cx="57.8" cy="238.3" r="1.75" fill="#111"/>
<circle cx="60.3" cy="238.3" r="1.75" fill="#111"/>
<circle cx="77.1" cy="234.6" r="1.75" fill="#111"/>
<circle cx="83.8" cy="233.7" r="1.75" fill="#111"/>
<circle cx="79.6" cy="240.1" r="1.75" fill="#111"/>
<circle cx="95.6" cy="241.3" r="1.75" fill="#111"/>
<circle cx="58.3" cy="247.2" r="1.75" fill="#111"/>
<circle cx="102.6" cy="198.4" r="1.75" fill="#111"/>
<circle cx="100.0" cy="203.1" r="1.75" fill="#111"/>
<circle cx="97.5" cy="207.3" r="1.75" fill="#111"/>
<circle cx="108.1" cy="205.1" r="1.75" fill="#111"/>
<circle cx="109.8" cy="206.3" r="1.75" fill="#111"/>
<circle cx="124.4" cy="200.9" r="1.75" fill="#111"/>
<circle cx="131.7" cy="204.3" r="1.75" fill="#111"/>
<circle cx="121.6" cy="211.0" r="1.75" fill="#111"/>
<circle cx="100.9" cy="214.4" r="1.75" fill="#111"/>
<circle cx="100.9" cy="216.9" r="1.75" fill="#111"/>
<circle cx="142.1" cy="215.2" r="1.75" fill="#111"/>
<circle cx="144.1" cy="214.4" r="1.75" fill="#111"/>
<circle cx="108.5" cy="221.1" r="1.75" fill="#111"/>
<circle cx="118.6" cy="221.1" r="1.75" fill="#111"/>
<circle cx="126.1" cy="220.3" r="1.75" fill="#111"/>
<circle cx="132.0" cy="221.1" r="1.75" fill="#111"/>
<circle cx="125.3" cy="222.3" r="1.75" fill="#111"/>
<circle cx="127.8" cy="222.8" r="1.75" fill="#111"/>
<circle cx="100.9" cy="223.3" r="1.75" fill="#111"/>
<circle cx="102.6" cy="223.3" r="1.75" fill="#111"/>
<circle cx="116.9" cy="225.3" r="1.75" fill="#111"/>
<circle cx="127.8" cy="225.7" r="1.75" fill="#111"/>
<circle cx="146.3" cy="222.3" r="1.75" fill="#111"/>
<circle cx="148.8" cy="222.3" r="1.75" fill="#111"/>
<circle cx="110.1" cy="232.4" r="1.75" fill="#111"/>
<circle cx="106.8" cy="236.8" r="1.75" fill="#111"/>
<circle cx="114.9" cy="238.3" r="1.75" fill="#111"/>
<circle cx="106.4" cy="241.3" r="1.75" fill="#111"/>
<circle cx="122.8" cy="242.7" r="1.75" fill="#111"/>
<text x="206.6" y="163.0" font-family='"Liberation Serif", serif' font-size="15" font-weight="normal" text-anchor="start" fill="#1e1e1e">(E)</text>
<line x1="224.70" y1="268.60" x2="360.60" y2="268.60" stroke="#262626" stroke-width="1.2"/>
<line x1="224.70" y1="268.60" x2="224.70" y2="272.60" stroke="#262626" stroke-width="1.2"/>
<text x="224.7" y="279.8" font-family='"Liberation Sans", sans-serif' font-size="6.8" font-weight="bold" text-anchor="middle" fill="#2a2a2a">0</text>
<line x1="251.76" y1="268.60" x2="251.76" y2="272.60" stroke="#262626" stroke-width="1.2"/>
<text x="251.8" y="279.8" font-family='"Liberation Sans", sans-serif' font-size="6.8" font-weight="bold" text-anchor="middle" fill="#2a2a2a">200</text>
<line x1="278.82" y1="268.60" x2="278.82" y2="272.60" stroke="#262626" stroke-width="1.2"/>
<text x="278.8" y="279.8" font-family='"Liberation Sans", sans-serif' font-size="6.8" font-weight="bold" text-anchor="middle" fill="#2a2a2a">400</text>
<line x1="305.88" y1="268.60" x2="305.88" y2="272.60" stroke="#262626" stroke-width="1.2"/>
<text x="305.9" y="279.8" font-family='"Liberation Sans", sans-serif' font-size="6.8" font-weight="bold" text-anchor="middle" fill="#2a2a2a">600</text>
<line x1="332.94" y1="268.60" x2="332.94" y2="272.60" stroke="#262626" stroke-width="1.2"/>
<text x="332.9" y="279.8" font-family='"Liberation Sans", sans-serif' font-size="6.8" font-weight="bold" text-anchor="middle" fill="#2a2a2a">800</text>
<line x1="360.00" y1="268.60" x2="360.00" y2="272.60" stroke="#262626" stroke-width="1.2"/>
<text x="360.0" y="279.8" font-family='"Liberation Sans", sans-serif' font-size="6.8" font-weight="bold" text-anchor="middle" fill="#2a2a2a">1000</text>
<line x1="224.70" y1="272.20" x2="224.70" y2="177.90" stroke="#262626" stroke-width="1.2"/>
<line x1="221.20" y1="268.60" x2="224.70" y2="268.60" stroke="#262626" stroke-width="1.2"/>
<text x="220.2" y="271.0" font-family='"Liberation Sans", sans-serif' font-size="6.8" font-weight="bold" text-anchor="end" fill="#2a2a2a">0</text>
<line x1="221.20" y1="246.08" x2="224.70" y2="246.08" stroke="#262626" stroke-width="1.2"/>
<text x="220.2" y="248.5" font-family='"Liberation Sans", sans-serif' font-size="6.8" font-weight="bold" text-anchor="end" fill="#2a2a2a">100</text>
<line x1="221.20" y1="223.55" x2="224.70" y2="223.55" stroke="#262626" stroke-width="1.2"/>
<text x="220.2" y="226.0" font-family='"Liberation Sans", sans-serif' font-size="6.8" font-weight="bold" text-anchor="end" fill="#2a2a2a">200</text>
<line x1="221.20" y1="201.03" x2="224.70" y2="201.03" stroke="#262626" stroke-width="1.2"/>
<text x="220.2" y="203.4" font-family='"Liberation Sans", sans-serif' font-size="6.8" font-weight="bold" text-anchor="end" fill="#2a2a2a">300</text>
<line x1="221.20" y1="178.50" x2="224.70" y2="178.50" stroke="#262626" stroke-width="1.2"/>
<text x="220.2" y="180.9" font-family='"Liberation Sans", sans-serif' font-size="6.8" font-weight="bold" text-anchor="end" fill="#2a2a2a">400</text>
<text x="291.8" y="290.8" font-family='"Liberation Sans", sans-serif' font-size="7.3" font-weight="bold" text-anchor="middle" fill="#2a2a2a">Plasma CXCL10 (pg/mL)</text>
<text x="203.5" y="222.0" font-family='"Liberation Sans", sans-serif' font-size="7.3" font-weight="bold" text-anchor="middle" fill="#2a2a2a" transform="rotate(-90 203.5 222.0)"># Months since last relapse</text>
<text x="233.2" y="185.4" font-family='"Liberation Sans", sans-serif' font-size="7.3" font-weight="normal" text-anchor="start" fill="#3a3a3a">P (two-tailed)</text>
<text x="284.2" y="185.4" font-family='"Liberation Sans", sans-serif' font-size="7.3" font-weight="normal" text-anchor="start" fill="#3a3a3a">0.4777</text>
<text x="233.2" y="196.3" font-family='"Liberation Sans", sans-serif' font-size="7.3" font-weight="normal" text-anchor="start" fill="#3a3a3a">r =0.067</text>
<line x1="234.00" y1="254.80" x2="343.00" y2="252.70" stroke="#8c8c8c" stroke-width="1.0"/>
<path d="M234.0,251.9 L237.6,252.0 L241.3,252.0 L244.9,252.0 L248.5,252.0 L252.2,251.9 L255.8,251.9 L259.4,251.8 L263.1,251.7 L266.7,251.5 L270.3,251.4 L274.0,251.2 L277.6,251.0 L281.2,250.8 L284.9,250.6 L288.5,250.4 L292.1,250.1 L295.8,249.9 L299.4,249.6 L303.0,249.4 L306.7,249.1 L310.3,248.8 L313.9,248.5 L317.6,248.3 L321.2,248.0 L324.8,247.7 L328.5,247.4 L332.1,247.1 L335.7,246.8 L339.4,246.5 L343.0,246.2" fill="none" stroke="#4a4a4a" stroke-width="0.8" stroke-dasharray="2,1.3"/>
<path d="M234.0,257.7 L237.6,257.5 L241.3,257.3 L244.9,257.2 L248.5,257.1 L252.2,257.0 L255.8,256.9 L259.4,256.8 L263.1,256.8 L266.7,256.8 L270.3,256.8 L274.0,256.8 L277.6,256.9 L281.2,257.0 L284.9,257.0 L288.5,257.1 L292.1,257.2 L295.8,257.3 L299.4,257.5 L303.0,257.6 L306.7,257.7 L310.3,257.8 L313.9,258.0 L317.6,258.1 L321.2,258.3 L324.8,258.4 L328.5,258.6 L332.1,258.7 L335.7,258.9 L339.4,259.0 L343.0,259.2" fill="none" stroke="#4a4a4a" stroke-width="0.8" stroke-dasharray="2,1.3"/>
<circle cx="251.2" cy="215.4" r="1.75" fill="#111"/>
<circle cx="262.5" cy="220.9" r="1.75" fill="#111"/>
<circle cx="272.1" cy="222.4" r="1.75" fill="#111"/>
<circle cx="237.9" cy="230.1" r="1.75" fill="#111"/>
<circle cx="266.9" cy="229.9" r="1.75" fill="#111"/>
<circle cx="269.9" cy="233.1" r="1.75" fill="#111"/>
<circle cx="271.8" cy="232.1" r="1.75" fill="#111"/>
<circle cx="252.9" cy="233.8" r="1.75" fill="#111"/>
<circle cx="251.8" cy="235.6" r="1.75" fill="#111"/>
<circle cx="240.0" cy="236.5" r="1.75" fill="#111"/>
<circle cx="242.6" cy="239.0" r="1.75" fill="#111"/>
<circle cx="248.5" cy="237.9" r="1.75" fill="#111"/>
<circle cx="254.1" cy="241.5" r="1.75" fill="#111"/>
<circle cx="276.2" cy="238.2" r="1.75" fill="#111"/>
<circle cx="275.7" cy="242.2" r="1.75" fill="#111"/>
<circle cx="294.1" cy="236.0" r="1.75" fill="#111"/>
<circle cx="263.5" cy="242.6" r="1.75" fill="#111"/>
<circle cx="266.2" cy="244.1" r="1.75" fill="#111"/>
<circle cx="262.5" cy="244.9" r="1.75" fill="#111"/>
<circle cx="262.9" cy="249.3" r="1.75" fill="#111"/>
<circle cx="263.5" cy="251.5" r="1.75" fill="#111"/>
<circle cx="246.8" cy="248.8" r="1.75" fill="#111"/>
<circle cx="257.6" cy="253.7" r="1.75" fill="#111"/>
<circle cx="294.1" cy="249.3" r="1.75" fill="#111"/>
<circle cx="236.8" cy="255.1" r="1.75" fill="#111"/>
<circle cx="246.3" cy="255.1" r="1.75" fill="#111"/>
<circle cx="268.4" cy="255.6" r="1.75" fill="#111"/>
<circle cx="271.8" cy="254.1" r="1.75" fill="#111"/>
<circle cx="272.8" cy="257.1" r="1.75" fill="#111"/>
<circle cx="233.5" cy="257.6" r="1.75" fill="#111"/>
<circle cx="239.0" cy="259.6" r="1.75" fill="#111"/>
<circle cx="241.9" cy="258.8" r="1.75" fill="#111"/>
<circle cx="248.5" cy="261.0" r="1.75" fill="#111"/>
<circle cx="250.7" cy="260.3" r="1.75" fill="#111"/>
<circle cx="252.9" cy="258.1" r="1.75" fill="#111"/>
<circle cx="237.5" cy="262.5" r="1.75" fill="#111"/>
<circle cx="243.4" cy="262.5" r="1.75" fill="#111"/>
<circle cx="246.3" cy="261.8" r="1.75" fill="#111"/>
<circle cx="279.4" cy="257.4" r="1.75" fill="#111"/>
<circle cx="281.6" cy="255.9" r="1.75" fill="#111"/>
<circle cx="283.8" cy="255.9" r="1.75" fill="#111"/>
<circle cx="288.2" cy="258.8" r="1.75" fill="#111"/>
<circle cx="289.7" cy="261.8" r="1.75" fill="#111"/>
<circle cx="294.1" cy="257.1" r="1.75" fill="#111"/>
<circle cx="255.9" cy="263.2" r="1.75" fill="#111"/>
<circle cx="258.8" cy="264.7" r="1.75" fill="#111"/>
<circle cx="260.3" cy="262.5" r="1.75" fill="#111"/>
<circle cx="267.6" cy="263.2" r="1.75" fill="#111"/>
<circle cx="270.6" cy="264.7" r="1.75" fill="#111"/>
<circle cx="275.0" cy="261.8" r="1.75" fill="#111"/>
<circle cx="280.1" cy="264.7" r="1.75" fill="#111"/>
<circle cx="282.4" cy="265.4" r="1.75" fill="#111"/>
<circle cx="235.3" cy="266.2" r="1.75" fill="#111"/>
<circle cx="240.4" cy="266.9" r="1.75" fill="#111"/>
<circle cx="243.4" cy="266.2" r="1.75" fill="#111"/>
<circle cx="233.1" cy="267.6" r="1.75" fill="#111"/>
<circle cx="252.2" cy="266.2" r="1.75" fill="#111"/>
<circle cx="254.4" cy="267.6" r="1.75" fill="#111"/>
<circle cx="258.8" cy="267.6" r="1.75" fill="#111"/>
<circle cx="261.8" cy="266.9" r="1.75" fill="#111"/>
<circle cx="266.2" cy="267.6" r="1.75" fill="#111"/>
<circle cx="272.1" cy="266.9" r="1.75" fill="#111"/>
<circle cx="276.5" cy="267.9" r="1.75" fill="#111"/>
<circle cx="283.1" cy="267.4" r="1.75" fill="#111"/>
<circle cx="286.8" cy="267.6" r="1.75" fill="#111"/>
<circle cx="292.6" cy="267.9" r="1.75" fill="#111"/>
<circle cx="326.2" cy="197.1" r="1.75" fill="#111"/>
<circle cx="294.2" cy="235.8" r="1.75" fill="#111"/>
<circle cx="321.6" cy="234.1" r="1.75" fill="#111"/>
<circle cx="338.8" cy="237.6" r="1.75" fill="#111"/>
<circle cx="336.3" cy="242.2" r="1.75" fill="#111"/>
<circle cx="313.6" cy="242.2" r="1.75" fill="#111"/>
<circle cx="316.1" cy="245.5" r="1.75" fill="#111"/>
<circle cx="295.4" cy="249.2" r="1.75" fill="#111"/>
<circle cx="311.5" cy="251.4" r="1.75" fill="#111"/>
<circle cx="303.1" cy="253.6" r="1.75" fill="#111"/>
<circle cx="304.3" cy="255.3" r="1.75" fill="#111"/>
<circle cx="320.3" cy="254.8" r="1.75" fill="#111"/>
<circle cx="318.9" cy="256.5" r="1.75" fill="#111"/>
<circle cx="321.6" cy="256.5" r="1.75" fill="#111"/>
<circle cx="326.2" cy="257.6" r="1.75" fill="#111"/>
<circle cx="294.2" cy="257.3" r="1.75" fill="#111"/>
<circle cx="292.5" cy="260.7" r="1.75" fill="#111"/>
<circle cx="295.9" cy="260.3" r="1.75" fill="#111"/>
<circle cx="300.1" cy="259.0" r="1.75" fill="#111"/>
<circle cx="302.6" cy="259.0" r="1.75" fill="#111"/>
<circle cx="340.5" cy="261.5" r="1.75" fill="#111"/>
<circle cx="343.0" cy="263.2" r="1.75" fill="#111"/>
<circle cx="296.7" cy="266.6" r="1.75" fill="#111"/>
<circle cx="301.8" cy="264.9" r="1.75" fill="#111"/>
<circle cx="304.3" cy="264.0" r="1.75" fill="#111"/>
<circle cx="309.4" cy="264.9" r="1.75" fill="#111"/>
<circle cx="312.7" cy="267.1" r="1.75" fill="#111"/>
<circle cx="316.9" cy="265.4" r="1.75" fill="#111"/>
<circle cx="291.7" cy="262.4" r="1.75" fill="#111"/>
<text x="390.0" y="163.0" font-family='"Liberation Serif", serif' font-size="15" font-weight="normal" text-anchor="start" fill="#1e1e1e">(F)</text>
<line x1="400.80" y1="268.60" x2="536.60" y2="268.60" stroke="#262626" stroke-width="1.2"/>
<line x1="400.80" y1="268.60" x2="400.80" y2="272.60" stroke="#262626" stroke-width="1.2"/>
<text x="400.8" y="279.8" font-family='"Liberation Sans", sans-serif' font-size="6.8" font-weight="bold" text-anchor="middle" fill="#2a2a2a">0</text>
<line x1="427.84" y1="268.60" x2="427.84" y2="272.60" stroke="#262626" stroke-width="1.2"/>
<text x="427.8" y="279.8" font-family='"Liberation Sans", sans-serif' font-size="6.8" font-weight="bold" text-anchor="middle" fill="#2a2a2a">200</text>
<line x1="454.88" y1="268.60" x2="454.88" y2="272.60" stroke="#262626" stroke-width="1.2"/>
<text x="454.9" y="279.8" font-family='"Liberation Sans", sans-serif' font-size="6.8" font-weight="bold" text-anchor="middle" fill="#2a2a2a">400</text>
<line x1="481.92" y1="268.60" x2="481.92" y2="272.60" stroke="#262626" stroke-width="1.2"/>
<text x="481.9" y="279.8" font-family='"Liberation Sans", sans-serif' font-size="6.8" font-weight="bold" text-anchor="middle" fill="#2a2a2a">600</text>
<line x1="508.96" y1="268.60" x2="508.96" y2="272.60" stroke="#262626" stroke-width="1.2"/>
<text x="509.0" y="279.8" font-family='"Liberation Sans", sans-serif' font-size="6.8" font-weight="bold" text-anchor="middle" fill="#2a2a2a">800</text>
<line x1="536.00" y1="268.60" x2="536.00" y2="272.60" stroke="#262626" stroke-width="1.2"/>
<text x="536.0" y="279.8" font-family='"Liberation Sans", sans-serif' font-size="6.8" font-weight="bold" text-anchor="middle" fill="#2a2a2a">1000</text>
<line x1="400.80" y1="272.20" x2="400.80" y2="177.90" stroke="#262626" stroke-width="1.2"/>
<line x1="397.30" y1="268.60" x2="400.80" y2="268.60" stroke="#262626" stroke-width="1.2"/>
<text x="396.3" y="271.0" font-family='"Liberation Sans", sans-serif' font-size="6.8" font-weight="bold" text-anchor="end" fill="#2a2a2a">0</text>
<line x1="397.30" y1="246.08" x2="400.80" y2="246.08" stroke="#262626" stroke-width="1.2"/>
<text x="396.3" y="248.5" font-family='"Liberation Sans", sans-serif' font-size="6.8" font-weight="bold" text-anchor="end" fill="#2a2a2a">2</text>
<line x1="397.30" y1="223.55" x2="400.80" y2="223.55" stroke="#262626" stroke-width="1.2"/>
<text x="396.3" y="226.0" font-family='"Liberation Sans", sans-serif' font-size="6.8" font-weight="bold" text-anchor="end" fill="#2a2a2a">4</text>
<line x1="397.30" y1="201.03" x2="400.80" y2="201.03" stroke="#262626" stroke-width="1.2"/>
<text x="396.3" y="203.4" font-family='"Liberation Sans", sans-serif' font-size="6.8" font-weight="bold" text-anchor="end" fill="#2a2a2a">6</text>
<line x1="397.30" y1="178.50" x2="400.80" y2="178.50" stroke="#262626" stroke-width="1.2"/>
<text x="396.3" y="180.9" font-family='"Liberation Sans", sans-serif' font-size="6.8" font-weight="bold" text-anchor="end" fill="#2a2a2a">8</text>
<text x="469.5" y="290.8" font-family='"Liberation Sans", sans-serif' font-size="7.3" font-weight="bold" text-anchor="middle" fill="#2a2a2a">Plasma CXCL10 (pg/mL)</text>
<text x="387.5" y="223.0" font-family='"Liberation Sans", sans-serif' font-size="7.3" font-weight="bold" text-anchor="middle" fill="#2a2a2a" transform="rotate(-90 387.5 223.0)">EDSS</text>
<text x="409.7" y="185.4" font-family='"Liberation Sans", sans-serif' font-size="7.3" font-weight="normal" text-anchor="start" fill="#3a3a3a">P (two-tailed)</text>
<text x="460.7" y="185.4" font-family='"Liberation Sans", sans-serif' font-size="7.3" font-weight="normal" text-anchor="start" fill="#3a3a3a">0.9948</text>
<text x="409.7" y="196.3" font-family='"Liberation Sans", sans-serif' font-size="7.3" font-weight="normal" text-anchor="start" fill="#3a3a3a">r =0.001</text>
<line x1="409.70" y1="248.20" x2="519.70" y2="246.30" stroke="#8c8c8c" stroke-width="1.0"/>
<path d="M409.7,242.6 L413.4,242.9 L417.0,243.2 L420.7,243.5 L424.4,243.7 L428.0,243.9 L431.7,244.0 L435.4,244.1 L439.0,244.2 L442.7,244.2 L446.4,244.2 L450.0,244.0 L453.7,243.9 L457.4,243.6 L461.0,243.4 L464.7,243.1 L468.4,242.7 L472.0,242.3 L475.7,241.9 L479.4,241.5 L483.0,241.1 L486.7,240.6 L490.4,240.2 L494.0,239.7 L497.7,239.3 L501.4,238.8 L505.0,238.3 L508.7,237.8 L512.4,237.3 L516.0,236.9 L519.7,236.4" fill="none" stroke="#4a4a4a" stroke-width="0.8" stroke-dasharray="2,1.3"/>
<path d="M409.7,253.8 L413.4,253.4 L417.0,252.9 L420.7,252.6 L424.4,252.2 L428.0,251.9 L431.7,251.6 L435.4,251.4 L439.0,251.2 L442.7,251.0 L446.4,251.0 L450.0,251.0 L453.7,251.0 L457.4,251.1 L461.0,251.3 L464.7,251.4 L468.4,251.7 L472.0,251.9 L475.7,252.2 L479.4,252.5 L483.0,252.8 L486.7,253.1 L490.4,253.4 L494.0,253.8 L497.7,254.1 L501.4,254.4 L505.0,254.8 L508.7,255.1 L512.4,255.5 L516.0,255.9 L519.7,256.2" fill="none" stroke="#4a4a4a" stroke-width="0.8" stroke-dasharray="2,1.3"/>
<circle cx="421.8" cy="201.1" r="1.75" fill="#111"/>
<circle cx="425.9" cy="201.1" r="1.75" fill="#111"/>
<circle cx="445.3" cy="201.1" r="1.75" fill="#111"/>
<circle cx="446.9" cy="201.1" r="1.75" fill="#111"/>
<circle cx="419.4" cy="223.6" r="1.75" fill="#111"/>
<circle cx="446.1" cy="223.6" r="1.75" fill="#111"/>
<circle cx="457.4" cy="223.6" r="1.75" fill="#111"/>
<circle cx="469.5" cy="223.6" r="1.75" fill="#111"/>
<circle cx="439.6" cy="229.2" r="1.75" fill="#111"/>
<circle cx="448.5" cy="229.2" r="1.75" fill="#111"/>
<circle cx="462.2" cy="229.2" r="1.75" fill="#111"/>
<circle cx="431.5" cy="234.9" r="1.75" fill="#111"/>
<circle cx="438.0" cy="234.9" r="1.75" fill="#111"/>
<circle cx="448.5" cy="234.9" r="1.75" fill="#111"/>
<circle cx="455.0" cy="234.9" r="1.75" fill="#111"/>
<circle cx="457.4" cy="234.9" r="1.75" fill="#111"/>
<circle cx="411.3" cy="240.5" r="1.75" fill="#111"/>
<circle cx="412.9" cy="240.5" r="1.75" fill="#111"/>
<circle cx="417.8" cy="240.5" r="1.75" fill="#111"/>
<circle cx="419.4" cy="240.5" r="1.75" fill="#111"/>
<circle cx="422.6" cy="240.5" r="1.75" fill="#111"/>
<circle cx="429.1" cy="240.5" r="1.75" fill="#111"/>
<circle cx="433.9" cy="240.5" r="1.75" fill="#111"/>
<circle cx="436.4" cy="240.5" r="1.75" fill="#111"/>
<circle cx="438.8" cy="240.5" r="1.75" fill="#111"/>
<circle cx="447.7" cy="240.5" r="1.75" fill="#111"/>
<circle cx="464.7" cy="240.5" r="1.75" fill="#111"/>
<circle cx="409.7" cy="246.1" r="1.75" fill="#111"/>
<circle cx="415.4" cy="246.1" r="1.75" fill="#111"/>
<circle cx="417.0" cy="246.1" r="1.75" fill="#111"/>
<circle cx="421.0" cy="246.1" r="1.75" fill="#111"/>
<circle cx="425.9" cy="246.1" r="1.75" fill="#111"/>
<circle cx="429.1" cy="246.1" r="1.75" fill="#111"/>
<circle cx="430.7" cy="246.1" r="1.75" fill="#111"/>
<circle cx="432.3" cy="246.1" r="1.75" fill="#111"/>
<circle cx="434.8" cy="246.1" r="1.75" fill="#111"/>
<circle cx="438.8" cy="246.1" r="1.75" fill="#111"/>
<circle cx="442.0" cy="246.1" r="1.75" fill="#111"/>
<circle cx="444.5" cy="246.1" r="1.75" fill="#111"/>
<circle cx="446.9" cy="246.1" r="1.75" fill="#111"/>
<circle cx="451.7" cy="246.1" r="1.75" fill="#111"/>
<circle cx="459.0" cy="246.1" r="1.75" fill="#111"/>
<circle cx="409.7" cy="251.7" r="1.75" fill="#111"/>
<circle cx="428.3" cy="251.7" r="1.75" fill="#111"/>
<circle cx="433.1" cy="251.7" r="1.75" fill="#111"/>
<circle cx="414.5" cy="257.4" r="1.75" fill="#111"/>
<circle cx="422.6" cy="257.4" r="1.75" fill="#111"/>
<circle cx="427.5" cy="257.4" r="1.75" fill="#111"/>
<circle cx="429.1" cy="257.4" r="1.75" fill="#111"/>
<circle cx="433.9" cy="257.4" r="1.75" fill="#111"/>
<circle cx="442.8" cy="257.4" r="1.75" fill="#111"/>
<circle cx="451.7" cy="257.4" r="1.75" fill="#111"/>
<circle cx="455.0" cy="257.4" r="1.75" fill="#111"/>
<circle cx="466.3" cy="257.4" r="1.75" fill="#111"/>
<circle cx="469.5" cy="257.4" r="1.75" fill="#111"/>
<circle cx="412.9" cy="268.6" r="1.75" fill="#111"/>
<circle cx="415.4" cy="268.6" r="1.75" fill="#111"/>
<circle cx="417.8" cy="268.6" r="1.75" fill="#111"/>
<circle cx="421.0" cy="268.6" r="1.75" fill="#111"/>
<circle cx="424.2" cy="268.6" r="1.75" fill="#111"/>
<circle cx="428.3" cy="268.6" r="1.75" fill="#111"/>
<circle cx="433.9" cy="268.6" r="1.75" fill="#111"/>
<circle cx="438.0" cy="268.6" r="1.75" fill="#111"/>
<circle cx="448.5" cy="268.6" r="1.75" fill="#111"/>
<circle cx="450.1" cy="268.6" r="1.75" fill="#111"/>
<circle cx="452.5" cy="268.6" r="1.75" fill="#111"/>
<circle cx="455.0" cy="268.6" r="1.75" fill="#111"/>
<circle cx="457.4" cy="268.6" r="1.75" fill="#111"/>
<circle cx="459.8" cy="268.6" r="1.75" fill="#111"/>
<circle cx="467.9" cy="268.6" r="1.75" fill="#111"/>
<circle cx="517.0" cy="195.5" r="1.75" fill="#111"/>
<circle cx="497.8" cy="201.1" r="1.75" fill="#111"/>
<circle cx="477.2" cy="212.4" r="1.75" fill="#111"/>
<circle cx="470.8" cy="223.6" r="1.75" fill="#111"/>
<circle cx="478.9" cy="234.9" r="1.75" fill="#111"/>
<circle cx="480.4" cy="234.9" r="1.75" fill="#111"/>
<circle cx="495.0" cy="234.9" r="1.75" fill="#111"/>
<circle cx="496.7" cy="234.9" r="1.75" fill="#111"/>
<circle cx="519.6" cy="234.9" r="1.75" fill="#111"/>
<circle cx="465.0" cy="240.5" r="1.75" fill="#111"/>
<circle cx="480.4" cy="240.5" r="1.75" fill="#111"/>
<circle cx="497.1" cy="240.5" r="1.75" fill="#111"/>
<circle cx="473.1" cy="246.1" r="1.75" fill="#111"/>
<circle cx="478.9" cy="246.1" r="1.75" fill="#111"/>
<circle cx="489.0" cy="246.1" r="1.75" fill="#111"/>
<circle cx="492.4" cy="246.1" r="1.75" fill="#111"/>
<circle cx="498.2" cy="246.1" r="1.75" fill="#111"/>
<circle cx="512.5" cy="246.1" r="1.75" fill="#111"/>
<circle cx="466.1" cy="257.4" r="1.75" fill="#111"/>
<circle cx="471.0" cy="257.4" r="1.75" fill="#111"/>
<circle cx="503.1" cy="257.4" r="1.75" fill="#111"/>
<circle cx="465.0" cy="268.6" r="1.75" fill="#111"/>
<circle cx="468.2" cy="268.6" r="1.75" fill="#111"/>
<circle cx="472.5" cy="268.6" r="1.75" fill="#111"/>
<circle cx="476.8" cy="268.6" r="1.75" fill="#111"/>
<circle cx="480.0" cy="268.6" r="1.75" fill="#111"/>
<circle cx="485.3" cy="268.6" r="1.75" fill="#111"/>
<circle cx="487.5" cy="268.6" r="1.75" fill="#111"/>
<circle cx="489.6" cy="268.6" r="1.75" fill="#111"/>
<circle cx="492.8" cy="268.6" r="1.75" fill="#111"/>
<circle cx="515.3" cy="268.6" r="1.75" fill="#111"/>
<text x="98.7" y="316.5" font-family='"Liberation Serif", serif' font-size="15" font-weight="normal" text-anchor="start" fill="#1e1e1e">(G)</text>
<line x1="130.00" y1="431.30" x2="188.40" y2="431.30" stroke="#262626" stroke-width="1.2"/>
<line x1="146.40" y1="431.30" x2="146.40" y2="435.30" stroke="#262626" stroke-width="1.2"/>
<text x="146.4" y="443.6" font-family='"Liberation Sans", sans-serif' font-size="6.8" font-weight="bold" text-anchor="middle" fill="#2a2a2a">Female</text>
<line x1="171.10" y1="431.30" x2="171.10" y2="435.30" stroke="#262626" stroke-width="1.2"/>
<text x="171.1" y="443.6" font-family='"Liberation Sans", sans-serif' font-size="6.8" font-weight="bold" text-anchor="middle" fill="#2a2a2a">Male</text>
<line x1="130.00" y1="434.90" x2="130.00" y2="330.60" stroke="#262626" stroke-width="1.2"/>
<line x1="126.50" y1="431.30" x2="130.00" y2="431.30" stroke="#262626" stroke-width="1.2"/>
<text x="125.5" y="433.7" font-family='"Liberation Sans", sans-serif' font-size="6.8" font-weight="bold" text-anchor="end" fill="#2a2a2a">0</text>
<line x1="126.50" y1="411.28" x2="130.00" y2="411.28" stroke="#262626" stroke-width="1.2"/>
<text x="125.5" y="413.7" font-family='"Liberation Sans", sans-serif' font-size="6.8" font-weight="bold" text-anchor="end" fill="#2a2a2a">200</text>
<line x1="126.50" y1="391.26" x2="130.00" y2="391.26" stroke="#262626" stroke-width="1.2"/>
<text x="125.5" y="393.7" font-family='"Liberation Sans", sans-serif' font-size="6.8" font-weight="bold" text-anchor="end" fill="#2a2a2a">400</text>
<line x1="126.50" y1="371.24" x2="130.00" y2="371.24" stroke="#262626" stroke-width="1.2"/>
<text x="125.5" y="373.6" font-family='"Liberation Sans", sans-serif' font-size="6.8" font-weight="bold" text-anchor="end" fill="#2a2a2a">600</text>
<line x1="126.50" y1="351.22" x2="130.00" y2="351.22" stroke="#262626" stroke-width="1.2"/>
<text x="125.5" y="353.6" font-family='"Liberation Sans", sans-serif' font-size="6.8" font-weight="bold" text-anchor="end" fill="#2a2a2a">800</text>
<line x1="126.50" y1="331.20" x2="130.00" y2="331.20" stroke="#262626" stroke-width="1.2"/>
<text x="125.5" y="333.6" font-family='"Liberation Sans", sans-serif' font-size="6.8" font-weight="bold" text-anchor="end" fill="#2a2a2a">1000</text>
<text x="103.6" y="381.0" font-family='"Liberation Sans", sans-serif' font-size="7.3" font-weight="bold" text-anchor="middle" fill="#2a2a2a" transform="rotate(-90 103.6 381.0)">Plasma CXCL10 (pg/mL)</text>
<line x1="138.50" y1="394.00" x2="154.70" y2="394.00" stroke="#f07070" stroke-width="1.3"/>
<line x1="162.80" y1="393.80" x2="179.00" y2="393.80" stroke="#f07070" stroke-width="1.3"/>
<line x1="166.00" y1="389.40" x2="176.00" y2="389.40" stroke="#f07070" stroke-width="1"/>
<line x1="166.00" y1="397.20" x2="176.00" y2="397.20" stroke="#f07070" stroke-width="1"/>
<line x1="170.90" y1="389.40" x2="170.90" y2="397.20" stroke="#f07070" stroke-width="1"/>
<rect x="145.59" y="344.29" width="1.5" height="1.5" fill="#111"/>
<rect x="148.12" y="342.93" width="1.5" height="1.5" fill="#111"/>
<rect x="143.91" y="355.01" width="1.5" height="1.5" fill="#111"/>
<rect x="147.07" y="355.01" width="1.5" height="1.5" fill="#111"/>
<rect x="143.18" y="358.68" width="1.5" height="1.5" fill="#111"/>
<rect x="145.28" y="358.68" width="1.5" height="1.5" fill="#111"/>
<rect x="147.91" y="358.16" width="1.5" height="1.5" fill="#111"/>
<rect x="143.18" y="361.83" width="1.5" height="1.5" fill="#111"/>
<rect x="145.59" y="360.78" width="1.5" height="1.5" fill="#111"/>
<rect x="147.38" y="361.31" width="1.5" height="1.5" fill="#111"/>
<rect x="144.23" y="364.99" width="1.5" height="1.5" fill="#111"/>
<rect x="146.86" y="364.67" width="1.5" height="1.5" fill="#111"/>
<rect x="145.59" y="367.82" width="1.5" height="1.5" fill="#111"/>
<rect x="140.76" y="372.65" width="1.5" height="1.5" fill="#111"/>
<rect x="143.18" y="373.91" width="1.5" height="1.5" fill="#111"/>
<rect x="145.59" y="373.39" width="1.5" height="1.5" fill="#111"/>
<rect x="147.91" y="373.07" width="1.5" height="1.5" fill="#111"/>
<rect x="150.53" y="372.65" width="1.5" height="1.5" fill="#111"/>
<rect x="143.18" y="378.12" width="1.5" height="1.5" fill="#111"/>
<rect x="145.80" y="378.33" width="1.5" height="1.5" fill="#111"/>
<rect x="147.91" y="377.91" width="1.5" height="1.5" fill="#111"/>
<rect x="143.18" y="382.32" width="1.5" height="1.5" fill="#111"/>
<rect x="145.28" y="381.79" width="1.5" height="1.5" fill="#111"/>
<rect x="147.91" y="382.53" width="1.5" height="1.5" fill="#111"/>
<rect x="150.53" y="381.79" width="1.5" height="1.5" fill="#111"/>
<rect x="143.18" y="385.47" width="1.5" height="1.5" fill="#111"/>
<rect x="145.80" y="385.99" width="1.5" height="1.5" fill="#111"/>
<rect x="147.91" y="386.52" width="1.5" height="1.5" fill="#111"/>
<rect x="145.59" y="384.78" width="1.5" height="1.5" fill="#111"/>
<rect x="143.18" y="386.88" width="1.5" height="1.5" fill="#111"/>
<rect x="145.59" y="386.88" width="1.5" height="1.5" fill="#111"/>
<rect x="147.91" y="386.88" width="1.5" height="1.5" fill="#111"/>
<rect x="143.18" y="388.98" width="1.5" height="1.5" fill="#111"/>
<rect x="145.59" y="388.98" width="1.5" height="1.5" fill="#111"/>
<rect x="147.91" y="388.98" width="1.5" height="1.5" fill="#111"/>
<rect x="140.55" y="390.55" width="1.5" height="1.5" fill="#111"/>
<rect x="143.18" y="390.55" width="1.5" height="1.5" fill="#111"/>
<rect x="145.59" y="390.55" width="1.5" height="1.5" fill="#111"/>
<rect x="147.91" y="390.55" width="1.5" height="1.5" fill="#111"/>
<rect x="150.53" y="390.55" width="1.5" height="1.5" fill="#111"/>
<rect x="140.55" y="392.65" width="1.5" height="1.5" fill="#111"/>
<rect x="143.18" y="392.65" width="1.5" height="1.5" fill="#111"/>
<rect x="145.59" y="392.65" width="1.5" height="1.5" fill="#111"/>
<rect x="147.91" y="392.65" width="1.5" height="1.5" fill="#111"/>
<rect x="150.53" y="392.65" width="1.5" height="1.5" fill="#111"/>
<rect x="152.63" y="392.65" width="1.5" height="1.5" fill="#111"/>
<rect x="138.45" y="394.75" width="1.5" height="1.5" fill="#111"/>
<rect x="143.18" y="394.75" width="1.5" height="1.5" fill="#111"/>
<rect x="145.59" y="394.75" width="1.5" height="1.5" fill="#111"/>
<rect x="147.91" y="394.75" width="1.5" height="1.5" fill="#111"/>
<rect x="150.53" y="394.75" width="1.5" height="1.5" fill="#111"/>
<rect x="140.55" y="396.86" width="1.5" height="1.5" fill="#111"/>
<rect x="143.18" y="396.86" width="1.5" height="1.5" fill="#111"/>
<rect x="145.59" y="396.86" width="1.5" height="1.5" fill="#111"/>
<rect x="147.91" y="396.86" width="1.5" height="1.5" fill="#111"/>
<rect x="150.53" y="396.86" width="1.5" height="1.5" fill="#111"/>
<rect x="143.18" y="398.96" width="1.5" height="1.5" fill="#111"/>
<rect x="145.59" y="398.96" width="1.5" height="1.5" fill="#111"/>
<rect x="147.91" y="398.96" width="1.5" height="1.5" fill="#111"/>
<rect x="150.53" y="398.96" width="1.5" height="1.5" fill="#111"/>
<rect x="140.55" y="401.58" width="1.5" height="1.5" fill="#111"/>
<rect x="143.18" y="401.58" width="1.5" height="1.5" fill="#111"/>
<rect x="145.59" y="401.58" width="1.5" height="1.5" fill="#111"/>
<rect x="147.91" y="401.58" width="1.5" height="1.5" fill="#111"/>
<rect x="150.53" y="401.58" width="1.5" height="1.5" fill="#111"/>
<rect x="143.18" y="403.16" width="1.5" height="1.5" fill="#111"/>
<rect x="147.91" y="403.16" width="1.5" height="1.5" fill="#111"/>
<rect x="137.93" y="405.78" width="1.5" height="1.5" fill="#111"/>
<rect x="140.55" y="405.78" width="1.5" height="1.5" fill="#111"/>
<rect x="143.18" y="405.78" width="1.5" height="1.5" fill="#111"/>
<rect x="145.59" y="405.78" width="1.5" height="1.5" fill="#111"/>
<rect x="147.91" y="405.78" width="1.5" height="1.5" fill="#111"/>
<rect x="152.95" y="405.78" width="1.5" height="1.5" fill="#111"/>
<rect x="143.18" y="407.36" width="1.5" height="1.5" fill="#111"/>
<rect x="147.91" y="407.36" width="1.5" height="1.5" fill="#111"/>
<rect x="150.53" y="407.36" width="1.5" height="1.5" fill="#111"/>
<rect x="137.93" y="409.46" width="1.5" height="1.5" fill="#111"/>
<rect x="140.55" y="409.46" width="1.5" height="1.5" fill="#111"/>
<rect x="143.18" y="409.46" width="1.5" height="1.5" fill="#111"/>
<rect x="145.59" y="409.46" width="1.5" height="1.5" fill="#111"/>
<rect x="147.91" y="409.46" width="1.5" height="1.5" fill="#111"/>
<rect x="150.53" y="409.46" width="1.5" height="1.5" fill="#111"/>
<rect x="152.95" y="409.46" width="1.5" height="1.5" fill="#111"/>
<rect x="143.18" y="411.56" width="1.5" height="1.5" fill="#111"/>
<rect x="147.91" y="411.56" width="1.5" height="1.5" fill="#111"/>
<rect x="143.18" y="414.71" width="1.5" height="1.5" fill="#111"/>
<rect x="145.59" y="414.71" width="1.5" height="1.5" fill="#111"/>
<rect x="143.18" y="416.81" width="1.5" height="1.5" fill="#111"/>
<rect x="147.91" y="416.81" width="1.5" height="1.5" fill="#111"/>
<rect x="143.18" y="418.91" width="1.5" height="1.5" fill="#111"/>
<rect x="145.59" y="418.91" width="1.5" height="1.5" fill="#111"/>
<rect x="147.91" y="418.91" width="1.5" height="1.5" fill="#111"/>
<rect x="143.18" y="421.01" width="1.5" height="1.5" fill="#111"/>
<rect x="145.59" y="421.01" width="1.5" height="1.5" fill="#111"/>
<rect x="147.91" y="421.01" width="1.5" height="1.5" fill="#111"/>
<rect x="150.53" y="421.01" width="1.5" height="1.5" fill="#111"/>
<rect x="144.23" y="424.17" width="1.5" height="1.5" fill="#111"/>
<rect x="146.86" y="424.17" width="1.5" height="1.5" fill="#111"/>
<rect x="170.13" y="345.88" width="1.5" height="1.5" fill="#111"/>
<rect x="170.13" y="347.77" width="1.5" height="1.5" fill="#111"/>
<rect x="170.13" y="359.14" width="1.5" height="1.5" fill="#111"/>
<rect x="170.13" y="365.77" width="1.5" height="1.5" fill="#111"/>
<rect x="168.23" y="371.45" width="1.5" height="1.5" fill="#111"/>
<rect x="172.02" y="371.45" width="1.5" height="1.5" fill="#111"/>
<rect x="170.13" y="376.75" width="1.5" height="1.5" fill="#111"/>
<rect x="173.92" y="376.75" width="1.5" height="1.5" fill="#111"/>
<rect x="170.13" y="378.64" width="1.5" height="1.5" fill="#111"/>
<rect x="170.13" y="380.54" width="1.5" height="1.5" fill="#111"/>
<rect x="170.13" y="388.87" width="1.5" height="1.5" fill="#111"/>
<rect x="173.92" y="387.55" width="1.5" height="1.5" fill="#111"/>
<rect x="166.72" y="392.28" width="1.5" height="1.5" fill="#111"/>
<rect x="170.13" y="392.66" width="1.5" height="1.5" fill="#111"/>
<rect x="173.92" y="393.23" width="1.5" height="1.5" fill="#111"/>
<rect x="166.72" y="395.69" width="1.5" height="1.5" fill="#111"/>
<rect x="170.13" y="395.69" width="1.5" height="1.5" fill="#111"/>
<rect x="173.92" y="395.69" width="1.5" height="1.5" fill="#111"/>
<rect x="166.72" y="401.75" width="1.5" height="1.5" fill="#111"/>
<rect x="170.13" y="403.27" width="1.5" height="1.5" fill="#111"/>
<rect x="170.13" y="405.54" width="1.5" height="1.5" fill="#111"/>
<rect x="168.23" y="407.05" width="1.5" height="1.5" fill="#111"/>
<rect x="172.02" y="407.05" width="1.5" height="1.5" fill="#111"/>
<rect x="170.13" y="409.70" width="1.5" height="1.5" fill="#111"/>
<rect x="168.23" y="414.06" width="1.5" height="1.5" fill="#111"/>
<rect x="172.02" y="414.06" width="1.5" height="1.5" fill="#111"/>
<rect x="168.23" y="416.90" width="1.5" height="1.5" fill="#111"/>
<rect x="172.02" y="416.90" width="1.5" height="1.5" fill="#111"/>
<rect x="170.13" y="419.74" width="1.5" height="1.5" fill="#111"/>
<rect x="168.23" y="422.58" width="1.5" height="1.5" fill="#111"/>
<text x="227.5" y="308.5" font-family='"Liberation Serif", serif' font-size="14.5" font-weight="normal" text-anchor="start" fill="#1e1e1e">(H)</text>
<rect x="276.1" y="396.1" width="21.1" height="45.7" fill="#a8a8a8" stroke="#1a1a1a" stroke-width="1.4"/>
<rect x="308.3" y="386.8" width="20.4" height="55.0" fill="#5a5a5a" stroke="#1a1a1a" stroke-width="1.4"/>
<rect x="339.6" y="398.9" width="20.5" height="42.9" fill="#d6d6d6" stroke="#1a1a1a" stroke-width="1.4"/>
<rect x="371.3" y="396.1" width="20.3" height="45.7" fill="#e8e8e8" stroke="#1a1a1a" stroke-width="1.4"/>
<rect x="402.9" y="389.3" width="20.2" height="52.5" fill="#d0d0d0" stroke="#1a1a1a" stroke-width="1.4"/>
<rect x="434.3" y="401.9" width="20.3" height="39.9" fill="#aaaaaa" stroke="#1a1a1a" stroke-width="1.4"/>
<rect x="466.3" y="384.7" width="19.7" height="57.1" fill="#f2f2f2" stroke="#1a1a1a" stroke-width="1.4"/>
<line x1="265.40" y1="441.80" x2="497.10" y2="441.80" stroke="#262626" stroke-width="1.2"/>
<line x1="286.65" y1="441.80" x2="286.65" y2="445.80" stroke="#262626" stroke-width="1.2"/>
<line x1="318.50" y1="441.80" x2="318.50" y2="445.80" stroke="#262626" stroke-width="1.2"/>
<line x1="349.85" y1="441.80" x2="349.85" y2="445.80" stroke="#262626" stroke-width="1.2"/>
<line x1="381.45" y1="441.80" x2="381.45" y2="445.80" stroke="#262626" stroke-width="1.2"/>
<line x1="413.00" y1="441.80" x2="413.00" y2="445.80" stroke="#262626" stroke-width="1.2"/>
<line x1="444.45" y1="441.80" x2="444.45" y2="445.80" stroke="#262626" stroke-width="1.2"/>
<line x1="476.15" y1="441.80" x2="476.15" y2="445.80" stroke="#262626" stroke-width="1.2"/>
<line x1="265.40" y1="445.40" x2="265.40" y2="310.60" stroke="#262626" stroke-width="1.2"/>
<line x1="262.10" y1="441.80" x2="265.40" y2="441.80" stroke="#262626" stroke-width="1.2"/>
<text x="261.1" y="444.2" font-family='"Liberation Sans", sans-serif' font-size="4.7" font-weight="bold" text-anchor="end" fill="#2a2a2a">0</text>
<line x1="262.10" y1="415.68" x2="265.40" y2="415.68" stroke="#262626" stroke-width="1.2"/>
<text x="261.1" y="418.1" font-family='"Liberation Sans", sans-serif' font-size="4.7" font-weight="bold" text-anchor="end" fill="#2a2a2a">200</text>
<line x1="262.10" y1="389.56" x2="265.40" y2="389.56" stroke="#262626" stroke-width="1.2"/>
<text x="261.1" y="392.0" font-family='"Liberation Sans", sans-serif' font-size="4.7" font-weight="bold" text-anchor="end" fill="#2a2a2a">400</text>
<line x1="262.10" y1="363.44" x2="265.40" y2="363.44" stroke="#262626" stroke-width="1.2"/>
<text x="261.1" y="365.8" font-family='"Liberation Sans", sans-serif' font-size="4.7" font-weight="bold" text-anchor="end" fill="#2a2a2a">600</text>
<line x1="262.10" y1="337.32" x2="265.40" y2="337.32" stroke="#262626" stroke-width="1.2"/>
<text x="261.1" y="339.7" font-family='"Liberation Sans", sans-serif' font-size="4.7" font-weight="bold" text-anchor="end" fill="#2a2a2a">800</text>
<line x1="262.10" y1="311.20" x2="265.40" y2="311.20" stroke="#262626" stroke-width="1.2"/>
<text x="261.1" y="313.6" font-family='"Liberation Sans", sans-serif' font-size="4.7" font-weight="bold" text-anchor="end" fill="#2a2a2a">1000</text>
<text x="246.0" y="376.0" font-family='"Liberation Sans", sans-serif' font-size="5.3" font-weight="bold" text-anchor="middle" fill="#2a2a2a" transform="rotate(-90 246.0 376.0)">Plasma CXCL10 (pg/mL)</text>
<line x1="281.50" y1="390.10" x2="291.90" y2="390.10" stroke="#f28c8c" stroke-width="1"/>
<line x1="281.50" y1="401.00" x2="291.90" y2="401.00" stroke="#f28c8c" stroke-width="1"/>
<line x1="286.70" y1="390.10" x2="286.70" y2="401.00" stroke="#f28c8c" stroke-width="1"/>
<line x1="313.30" y1="382.20" x2="323.70" y2="382.20" stroke="#f28c8c" stroke-width="1"/>
<line x1="313.30" y1="391.00" x2="323.70" y2="391.00" stroke="#f28c8c" stroke-width="1"/>
<line x1="318.50" y1="382.20" x2="318.50" y2="391.00" stroke="#f28c8c" stroke-width="1"/>
<line x1="344.60" y1="391.00" x2="355.00" y2="391.00" stroke="#f28c8c" stroke-width="1"/>
<line x1="344.60" y1="405.20" x2="355.00" y2="405.20" stroke="#f28c8c" stroke-width="1"/>
<line x1="349.80" y1="391.00" x2="349.80" y2="405.20" stroke="#f28c8c" stroke-width="1"/>
<line x1="376.30" y1="388.20" x2="386.70" y2="388.20" stroke="#f28c8c" stroke-width="1"/>
<line x1="376.30" y1="403.00" x2="386.70" y2="403.00" stroke="#f28c8c" stroke-width="1"/>
<line x1="381.50" y1="388.20" x2="381.50" y2="403.00" stroke="#f28c8c" stroke-width="1"/>
<line x1="407.80" y1="370.20" x2="418.20" y2="370.20" stroke="#f28c8c" stroke-width="1"/>
<line x1="407.80" y1="408.40" x2="418.20" y2="408.40" stroke="#f28c8c" stroke-width="1"/>
<line x1="413.00" y1="370.20" x2="413.00" y2="408.40" stroke="#f28c8c" stroke-width="1"/>
<line x1="439.30" y1="395.60" x2="449.70" y2="395.60" stroke="#f28c8c" stroke-width="1"/>
<line x1="439.30" y1="407.30" x2="449.70" y2="407.30" stroke="#f28c8c" stroke-width="1"/>
<line x1="444.50" y1="395.60" x2="444.50" y2="407.30" stroke="#f28c8c" stroke-width="1"/>
<line x1="470.80" y1="378.40" x2="481.20" y2="378.40" stroke="#f28c8c" stroke-width="1"/>
<line x1="470.80" y1="389.30" x2="481.20" y2="389.30" stroke="#f28c8c" stroke-width="1"/>
<line x1="476.00" y1="378.40" x2="476.00" y2="389.30" stroke="#f28c8c" stroke-width="1"/>
<rect x="285.65" y="342.05" width="2.1" height="2.1" fill="#b8b8b8"/>
<rect x="285.65" y="355.45" width="2.1" height="2.1" fill="#b8b8b8"/>
<rect x="285.65" y="364.45" width="2.1" height="2.1" fill="#b8b8b8"/>
<rect x="285.65" y="376.75" width="2.1" height="2.1" fill="#b8b8b8"/>
<rect x="285.65" y="379.55" width="2.1" height="2.1" fill="#b8b8b8"/>
<rect x="285.65" y="395.95" width="2.1" height="2.1" fill="#b8b8b8"/>
<rect x="285.65" y="400.85" width="2.1" height="2.1" fill="#b8b8b8"/>
<rect x="285.65" y="403.55" width="2.1" height="2.1" fill="#b8b8b8"/>
<rect x="285.65" y="408.25" width="2.1" height="2.1" fill="#b8b8b8"/>
<rect x="285.65" y="410.95" width="2.1" height="2.1" fill="#b8b8b8"/>
<rect x="285.65" y="419.15" width="2.1" height="2.1" fill="#b8b8b8"/>
<rect x="285.65" y="431.95" width="2.1" height="2.1" fill="#b8b8b8"/>
<rect x="283.45" y="402.95" width="2.1" height="2.1" fill="#b8b8b8"/>
<rect x="287.95" y="406.95" width="2.1" height="2.1" fill="#b8b8b8"/>
<rect x="282.95" y="410.95" width="2.1" height="2.1" fill="#b8b8b8"/>
<rect x="287.45" y="396.95" width="2.1" height="2.1" fill="#b8b8b8"/>
<rect x="317.05" y="332.75" width="2.1" height="2.1" fill="#b8b8b8"/>
<rect x="317.05" y="346.65" width="2.1" height="2.1" fill="#b8b8b8"/>
<rect x="319.65" y="351.15" width="2.1" height="2.1" fill="#b8b8b8"/>
<rect x="317.05" y="354.15" width="2.1" height="2.1" fill="#b8b8b8"/>
<rect x="317.05" y="356.15" width="2.1" height="2.1" fill="#b8b8b8"/>
<rect x="317.05" y="357.95" width="2.1" height="2.1" fill="#b8b8b8"/>
<rect x="314.55" y="362.95" width="2.1" height="2.1" fill="#b8b8b8"/>
<rect x="317.05" y="370.55" width="2.1" height="2.1" fill="#b8b8b8"/>
<rect x="319.65" y="372.35" width="2.1" height="2.1" fill="#b8b8b8"/>
<rect x="317.05" y="377.65" width="2.1" height="2.1" fill="#b8b8b8"/>
<rect x="319.65" y="378.85" width="2.1" height="2.1" fill="#b8b8b8"/>
<rect x="317.05" y="389.95" width="2.1" height="2.1" fill="#b8b8b8"/>
<rect x="317.05" y="391.95" width="2.1" height="2.1" fill="#b8b8b8"/>
<rect x="317.05" y="396.95" width="2.1" height="2.1" fill="#b8b8b8"/>
<rect x="317.05" y="404.55" width="2.1" height="2.1" fill="#b8b8b8"/>
<rect x="317.05" y="407.05" width="2.1" height="2.1" fill="#b8b8b8"/>
<rect x="314.55" y="412.15" width="2.1" height="2.1" fill="#b8b8b8"/>
<rect x="317.05" y="413.35" width="2.1" height="2.1" fill="#b8b8b8"/>
<rect x="319.65" y="412.15" width="2.1" height="2.1" fill="#b8b8b8"/>
<rect x="317.05" y="424.75" width="2.1" height="2.1" fill="#b8b8b8"/>
<rect x="314.55" y="427.25" width="2.1" height="2.1" fill="#b8b8b8"/>
<rect x="348.25" y="326.25" width="2.1" height="2.1" fill="#b8b8b8"/>
<rect x="349.95" y="349.45" width="2.1" height="2.1" fill="#b8b8b8"/>
<rect x="348.25" y="372.65" width="2.1" height="2.1" fill="#b8b8b8"/>
<rect x="349.95" y="384.45" width="2.1" height="2.1" fill="#b8b8b8"/>
<rect x="348.25" y="391.85" width="2.1" height="2.1" fill="#b8b8b8"/>
<rect x="349.95" y="394.55" width="2.1" height="2.1" fill="#b8b8b8"/>
<rect x="348.25" y="404.15" width="2.1" height="2.1" fill="#b8b8b8"/>
<rect x="349.95" y="409.55" width="2.1" height="2.1" fill="#b8b8b8"/>
<rect x="348.25" y="412.35" width="2.1" height="2.1" fill="#b8b8b8"/>
<rect x="349.95" y="415.05" width="2.1" height="2.1" fill="#b8b8b8"/>
<rect x="348.25" y="417.75" width="2.1" height="2.1" fill="#b8b8b8"/>
<rect x="349.95" y="420.55" width="2.1" height="2.1" fill="#b8b8b8"/>
<rect x="348.25" y="423.25" width="2.1" height="2.1" fill="#b8b8b8"/>
<rect x="349.95" y="425.95" width="2.1" height="2.1" fill="#b8b8b8"/>
<rect x="380.45" y="328.15" width="2.1" height="2.1" fill="#b8b8b8"/>
<rect x="381.95" y="330.85" width="2.1" height="2.1" fill="#b8b8b8"/>
<rect x="378.95" y="342.05" width="2.1" height="2.1" fill="#b8b8b8"/>
<rect x="380.45" y="365.35" width="2.1" height="2.1" fill="#b8b8b8"/>
<rect x="381.95" y="370.75" width="2.1" height="2.1" fill="#b8b8b8"/>
<rect x="378.95" y="371.85" width="2.1" height="2.1" fill="#b8b8b8"/>
<rect x="380.45" y="391.85" width="2.1" height="2.1" fill="#b8b8b8"/>
<rect x="381.95" y="397.25" width="2.1" height="2.1" fill="#b8b8b8"/>
<rect x="378.95" y="408.25" width="2.1" height="2.1" fill="#b8b8b8"/>
<rect x="380.45" y="413.65" width="2.1" height="2.1" fill="#b8b8b8"/>
<rect x="381.95" y="419.15" width="2.1" height="2.1" fill="#b8b8b8"/>
<rect x="378.95" y="421.85" width="2.1" height="2.1" fill="#b8b8b8"/>
<rect x="380.45" y="425.95" width="2.1" height="2.1" fill="#b8b8b8"/>
<rect x="381.95" y="428.75" width="2.1" height="2.1" fill="#b8b8b8"/>
<rect x="378.95" y="431.95" width="2.1" height="2.1" fill="#b8b8b8"/>
<rect x="411.95" y="346.75" width="2.1" height="2.1" fill="#b8b8b8"/>
<rect x="411.95" y="366.65" width="2.1" height="2.1" fill="#b8b8b8"/>
<rect x="411.95" y="409.55" width="2.1" height="2.1" fill="#b8b8b8"/>
<rect x="411.95" y="430.05" width="2.1" height="2.1" fill="#b8b8b8"/>
<rect x="442.65" y="363.95" width="2.1" height="2.1" fill="#b8b8b8"/>
<rect x="444.65" y="365.85" width="2.1" height="2.1" fill="#b8b8b8"/>
<rect x="442.65" y="385.85" width="2.1" height="2.1" fill="#b8b8b8"/>
<rect x="444.65" y="389.05" width="2.1" height="2.1" fill="#b8b8b8"/>
<rect x="442.65" y="391.85" width="2.1" height="2.1" fill="#b8b8b8"/>
<rect x="444.65" y="395.95" width="2.1" height="2.1" fill="#b8b8b8"/>
<rect x="442.65" y="401.35" width="2.1" height="2.1" fill="#b8b8b8"/>
<rect x="444.65" y="408.25" width="2.1" height="2.1" fill="#b8b8b8"/>
<rect x="442.65" y="419.15" width="2.1" height="2.1" fill="#b8b8b8"/>
<rect x="444.65" y="422.65" width="2.1" height="2.1" fill="#b8b8b8"/>
<rect x="442.65" y="428.75" width="2.1" height="2.1" fill="#b8b8b8"/>
<rect x="474.85" y="348.65" width="2.1" height="2.1" fill="#b8b8b8"/>
<rect x="477.55" y="347.55" width="2.1" height="2.1" fill="#b8b8b8"/>
<rect x="474.95" y="375.45" width="2.1" height="2.1" fill="#b8b8b8"/>
<rect x="472.95" y="387.75" width="2.1" height="2.1" fill="#b8b8b8"/>
<rect x="475.95" y="390.45" width="2.1" height="2.1" fill="#b8b8b8"/>
<rect x="473.95" y="393.15" width="2.1" height="2.1" fill="#b8b8b8"/>
<rect x="476.95" y="394.55" width="2.1" height="2.1" fill="#b8b8b8"/>
<rect x="474.95" y="395.95" width="2.1" height="2.1" fill="#b8b8b8"/>
<rect x="474.95" y="400.05" width="2.1" height="2.1" fill="#b8b8b8"/>
<rect x="477.95" y="390.95" width="2.1" height="2.1" fill="#b8b8b8"/>
<rect x="286.00" y="342.40" width="1.4" height="1.4" fill="#111"/>
<rect x="286.00" y="355.80" width="1.4" height="1.4" fill="#111"/>
<rect x="286.00" y="364.80" width="1.4" height="1.4" fill="#111"/>
<rect x="286.00" y="377.10" width="1.4" height="1.4" fill="#111"/>
<rect x="286.00" y="379.90" width="1.4" height="1.4" fill="#111"/>
<rect x="286.00" y="396.30" width="1.4" height="1.4" fill="#111"/>
<rect x="286.00" y="401.20" width="1.4" height="1.4" fill="#111"/>
<rect x="286.00" y="403.90" width="1.4" height="1.4" fill="#111"/>
<rect x="286.00" y="408.60" width="1.4" height="1.4" fill="#111"/>
<rect x="286.00" y="411.30" width="1.4" height="1.4" fill="#111"/>
<rect x="286.00" y="419.50" width="1.4" height="1.4" fill="#111"/>
<rect x="286.00" y="432.30" width="1.4" height="1.4" fill="#111"/>
<rect x="283.80" y="403.30" width="1.4" height="1.4" fill="#111"/>
<rect x="288.30" y="407.30" width="1.4" height="1.4" fill="#111"/>
<rect x="283.30" y="411.30" width="1.4" height="1.4" fill="#111"/>
<rect x="287.80" y="397.30" width="1.4" height="1.4" fill="#111"/>
<rect x="317.40" y="333.10" width="1.4" height="1.4" fill="#111"/>
<rect x="317.40" y="347.00" width="1.4" height="1.4" fill="#111"/>
<rect x="320.00" y="351.50" width="1.4" height="1.4" fill="#111"/>
<rect x="317.40" y="354.50" width="1.4" height="1.4" fill="#111"/>
<rect x="317.40" y="356.50" width="1.4" height="1.4" fill="#111"/>
<rect x="317.40" y="358.30" width="1.4" height="1.4" fill="#111"/>
<rect x="314.90" y="363.30" width="1.4" height="1.4" fill="#111"/>
<rect x="317.40" y="370.90" width="1.4" height="1.4" fill="#111"/>
<rect x="320.00" y="372.70" width="1.4" height="1.4" fill="#111"/>
<rect x="317.40" y="378.00" width="1.4" height="1.4" fill="#111"/>
<rect x="320.00" y="379.20" width="1.4" height="1.4" fill="#111"/>
<rect x="317.40" y="390.30" width="1.4" height="1.4" fill="#111"/>
<rect x="317.40" y="392.30" width="1.4" height="1.4" fill="#111"/>
<rect x="317.40" y="397.30" width="1.4" height="1.4" fill="#111"/>
<rect x="317.40" y="404.90" width="1.4" height="1.4" fill="#111"/>
<rect x="317.40" y="407.40" width="1.4" height="1.4" fill="#111"/>
<rect x="314.90" y="412.50" width="1.4" height="1.4" fill="#111"/>
<rect x="317.40" y="413.70" width="1.4" height="1.4" fill="#111"/>
<rect x="320.00" y="412.50" width="1.4" height="1.4" fill="#111"/>
<rect x="317.40" y="425.10" width="1.4" height="1.4" fill="#111"/>
<rect x="314.90" y="427.60" width="1.4" height="1.4" fill="#111"/>
<rect x="348.60" y="326.60" width="1.4" height="1.4" fill="#111"/>
<rect x="350.30" y="349.80" width="1.4" height="1.4" fill="#111"/>
<rect x="348.60" y="373.00" width="1.4" height="1.4" fill="#111"/>
<rect x="350.30" y="384.80" width="1.4" height="1.4" fill="#111"/>
<rect x="348.60" y="392.20" width="1.4" height="1.4" fill="#111"/>
<rect x="350.30" y="394.90" width="1.4" height="1.4" fill="#111"/>
<rect x="348.60" y="404.50" width="1.4" height="1.4" fill="#111"/>
<rect x="350.30" y="409.90" width="1.4" height="1.4" fill="#111"/>
<rect x="348.60" y="412.70" width="1.4" height="1.4" fill="#111"/>
<rect x="350.30" y="415.40" width="1.4" height="1.4" fill="#111"/>
<rect x="348.60" y="418.10" width="1.4" height="1.4" fill="#111"/>
<rect x="350.30" y="420.90" width="1.4" height="1.4" fill="#111"/>
<rect x="348.60" y="423.60" width="1.4" height="1.4" fill="#111"/>
<rect x="350.30" y="426.30" width="1.4" height="1.4" fill="#111"/>
<rect x="380.80" y="328.50" width="1.4" height="1.4" fill="#111"/>
<rect x="382.30" y="331.20" width="1.4" height="1.4" fill="#111"/>
<rect x="379.30" y="342.40" width="1.4" height="1.4" fill="#111"/>
<rect x="380.80" y="365.70" width="1.4" height="1.4" fill="#111"/>
<rect x="382.30" y="371.10" width="1.4" height="1.4" fill="#111"/>
<rect x="379.30" y="372.20" width="1.4" height="1.4" fill="#111"/>
<rect x="380.80" y="392.20" width="1.4" height="1.4" fill="#111"/>
<rect x="382.30" y="397.60" width="1.4" height="1.4" fill="#111"/>
<rect x="379.30" y="408.60" width="1.4" height="1.4" fill="#111"/>
<rect x="380.80" y="414.00" width="1.4" height="1.4" fill="#111"/>
<rect x="382.30" y="419.50" width="1.4" height="1.4" fill="#111"/>
<rect x="379.30" y="422.20" width="1.4" height="1.4" fill="#111"/>
<rect x="380.80" y="426.30" width="1.4" height="1.4" fill="#111"/>
<rect x="382.30" y="429.10" width="1.4" height="1.4" fill="#111"/>
<rect x="379.30" y="432.30" width="1.4" height="1.4" fill="#111"/>
<rect x="412.30" y="347.10" width="1.4" height="1.4" fill="#111"/>
<rect x="412.30" y="367.00" width="1.4" height="1.4" fill="#111"/>
<rect x="412.30" y="409.90" width="1.4" height="1.4" fill="#111"/>
<rect x="412.30" y="430.40" width="1.4" height="1.4" fill="#111"/>
<rect x="443.00" y="364.30" width="1.4" height="1.4" fill="#111"/>
<rect x="445.00" y="366.20" width="1.4" height="1.4" fill="#111"/>
<rect x="443.00" y="386.20" width="1.4" height="1.4" fill="#111"/>
<rect x="445.00" y="389.40" width="1.4" height="1.4" fill="#111"/>
<rect x="443.00" y="392.20" width="1.4" height="1.4" fill="#111"/>
<rect x="445.00" y="396.30" width="1.4" height="1.4" fill="#111"/>
<rect x="443.00" y="401.70" width="1.4" height="1.4" fill="#111"/>
<rect x="445.00" y="408.60" width="1.4" height="1.4" fill="#111"/>
<rect x="443.00" y="419.50" width="1.4" height="1.4" fill="#111"/>
<rect x="445.00" y="423.00" width="1.4" height="1.4" fill="#111"/>
<rect x="443.00" y="429.10" width="1.4" height="1.4" fill="#111"/>
<rect x="475.20" y="349.00" width="1.4" height="1.4" fill="#111"/>
<rect x="477.90" y="347.90" width="1.4" height="1.4" fill="#111"/>
<rect x="475.30" y="375.80" width="1.4" height="1.4" fill="#111"/>
<rect x="473.30" y="388.10" width="1.4" height="1.4" fill="#111"/>
<rect x="476.30" y="390.80" width="1.4" height="1.4" fill="#111"/>
<rect x="474.30" y="393.50" width="1.4" height="1.4" fill="#111"/>
<rect x="477.30" y="394.90" width="1.4" height="1.4" fill="#111"/>
<rect x="475.30" y="396.30" width="1.4" height="1.4" fill="#111"/>
<rect x="475.30" y="400.40" width="1.4" height="1.4" fill="#111"/>
<rect x="478.30" y="391.30" width="1.4" height="1.4" fill="#111"/>
<text x="287.6" y="449.2" font-family='"Liberation Sans", sans-serif' font-size="5" font-weight="bold" text-anchor="end" fill="#2a2a2a" transform="rotate(-45 287.6 449.2)">None</text>
<text x="317.4" y="449.2" font-family='"Liberation Sans", sans-serif' font-size="5" font-weight="bold" text-anchor="end" fill="#2a2a2a" transform="rotate(-45 317.4 449.2)">Dimethyl</text>
<text x="322.2" y="453.4" font-family='"Liberation Sans", sans-serif' font-size="5" font-weight="bold" text-anchor="end" fill="#2a2a2a" transform="rotate(-45 322.2 453.4)">Fumarate</text>
<text x="350.4" y="449.2" font-family='"Liberation Sans", sans-serif' font-size="5" font-weight="bold" text-anchor="end" fill="#2a2a2a" transform="rotate(-45 350.4 449.2)">Teriflunomide</text>
<text x="379.8" y="449.2" font-family='"Liberation Sans", sans-serif' font-size="5" font-weight="bold" text-anchor="end" fill="#2a2a2a" transform="rotate(-45 379.8 449.2)">Glatiramer</text>
<text x="385.0" y="453.4" font-family='"Liberation Sans", sans-serif' font-size="5" font-weight="bold" text-anchor="end" fill="#2a2a2a" transform="rotate(-45 385.0 453.4)">Acetate</text>
<text x="415.0" y="449.2" font-family='"Liberation Sans", sans-serif' font-size="5" font-weight="bold" text-anchor="end" fill="#2a2a2a" transform="rotate(-45 415.0 449.2)">Natalizumab</text>
<text x="445.6" y="449.2" font-family='"Liberation Sans", sans-serif' font-size="5" font-weight="bold" text-anchor="end" fill="#2a2a2a" transform="rotate(-45 445.6 449.2)">Fingolimod</text>
<text x="476.4" y="449.2" font-family='"Liberation Sans", sans-serif' font-size="5" font-weight="bold" text-anchor="end" fill="#2a2a2a" transform="rotate(-45 476.4 449.2)">IFN-B1a</text>
</svg></body></html>
